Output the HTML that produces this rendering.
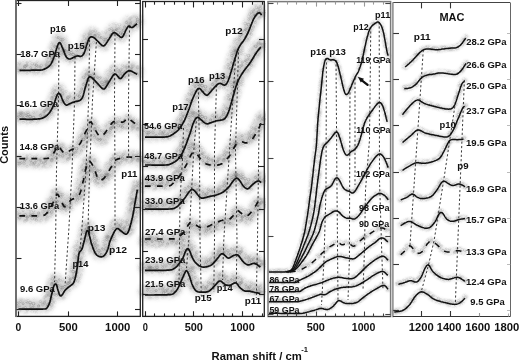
<!DOCTYPE html><html><head><meta charset="utf-8"><style>html,body{margin:0;padding:0;background:#fff;width:520px;height:360px;overflow:hidden}svg{display:block}text{font-family:'Liberation Sans', Arial, Helvetica, sans-serif;font-weight:bold;fill:#111}</style></head><body>
<svg width="520" height="360" viewBox="0 0 520 360">
<defs>
<pattern id="sp" width="43" height="31" patternUnits="userSpaceOnUse"><g fill="none" stroke-width="0.6"><circle cx="19.5" cy="17.4" r="1.4" stroke="#a8a8a8"/><circle cx="19.4" cy="26.5" r="0.9" stroke="#b4b4b4"/><circle cx="20.5" cy="19.0" r="0.9" stroke="#a8a8a8"/><circle cx="13.0" cy="2.8" r="1.3" stroke="#808080"/><circle cx="13.0" cy="33.8" r="1.3" stroke="#808080"/><circle cx="25.6" cy="12.3" r="1.1" stroke="#b4b4b4"/><circle cx="28.0" cy="19.3" r="1.3" stroke="#808080"/><circle cx="2.6" cy="5.9" r="0.9" stroke="#808080"/><circle cx="45.6" cy="5.9" r="0.9" stroke="#808080"/><circle cx="33.5" cy="10.1" r="1.2" stroke="#8e8e8e"/><circle cx="22.3" cy="19.8" r="1.1" stroke="#808080"/><circle cx="19.7" cy="8.6" r="1.4" stroke="#808080"/><circle cx="30.4" cy="9.8" r="0.9" stroke="#9c9c9c"/><circle cx="1.3" cy="17.5" r="0.9" stroke="#808080"/><circle cx="44.3" cy="17.5" r="0.9" stroke="#808080"/><circle cx="36.4" cy="12.0" r="1.4" stroke="#808080"/><circle cx="9.2" cy="-2.3" r="0.8" stroke="#a8a8a8"/><circle cx="9.2" cy="28.7" r="0.8" stroke="#a8a8a8"/><circle cx="-0.8" cy="12.3" r="0.8" stroke="#8e8e8e"/><circle cx="42.2" cy="12.3" r="0.8" stroke="#8e8e8e"/><circle cx="33.5" cy="8.4" r="0.9" stroke="#9c9c9c"/><circle cx="0.7" cy="12.7" r="1.4" stroke="#8e8e8e"/><circle cx="43.7" cy="12.7" r="1.4" stroke="#8e8e8e"/><circle cx="10.6" cy="3.1" r="0.8" stroke="#a8a8a8"/><circle cx="7.6" cy="17.3" r="1.1" stroke="#8e8e8e"/><circle cx="-0.6" cy="23.9" r="1.1" stroke="#a8a8a8"/><circle cx="42.4" cy="23.9" r="1.1" stroke="#a8a8a8"/><circle cx="5.0" cy="13.0" r="0.9" stroke="#9c9c9c"/><circle cx="37.2" cy="-0.8" r="1.2" stroke="#808080"/><circle cx="37.2" cy="30.2" r="1.2" stroke="#808080"/><circle cx="9.1" cy="12.2" r="1.3" stroke="#b4b4b4"/><circle cx="4.3" cy="-0.3" r="0.9" stroke="#9c9c9c"/><circle cx="4.3" cy="30.7" r="0.9" stroke="#9c9c9c"/><circle cx="0.4" cy="18.9" r="1.3" stroke="#a8a8a8"/><circle cx="43.4" cy="18.9" r="1.3" stroke="#a8a8a8"/><circle cx="3.2" cy="2.8" r="1.1" stroke="#8e8e8e"/><circle cx="3.2" cy="33.8" r="1.1" stroke="#8e8e8e"/><circle cx="0.7" cy="11.4" r="1.2" stroke="#8e8e8e"/><circle cx="43.7" cy="11.4" r="1.2" stroke="#8e8e8e"/><circle cx="-1.8" cy="15.0" r="1.1" stroke="#a8a8a8"/><circle cx="41.2" cy="15.0" r="1.1" stroke="#a8a8a8"/><circle cx="7.9" cy="4.8" r="1.3" stroke="#b4b4b4"/><circle cx="10.7" cy="5.9" r="1.2" stroke="#b4b4b4"/><circle cx="8.5" cy="-1.5" r="1.3" stroke="#b4b4b4"/><circle cx="8.5" cy="29.5" r="1.3" stroke="#b4b4b4"/><circle cx="3.4" cy="1.5" r="0.9" stroke="#b4b4b4"/><circle cx="3.4" cy="32.5" r="0.9" stroke="#b4b4b4"/><circle cx="-1.6" cy="7.4" r="1.2" stroke="#9c9c9c"/><circle cx="41.4" cy="7.4" r="1.2" stroke="#9c9c9c"/><circle cx="18.1" cy="-3.0" r="1.1" stroke="#b4b4b4"/><circle cx="18.1" cy="28.0" r="1.1" stroke="#b4b4b4"/><circle cx="7.5" cy="22.3" r="0.8" stroke="#8e8e8e"/><circle cx="20.6" cy="20.3" r="1.2" stroke="#808080"/><circle cx="12.0" cy="-2.6" r="0.9" stroke="#808080"/><circle cx="12.0" cy="28.4" r="0.9" stroke="#808080"/><circle cx="3.0" cy="12.8" r="0.9" stroke="#808080"/><circle cx="46.0" cy="12.8" r="0.9" stroke="#808080"/><circle cx="7.6" cy="11.4" r="1.1" stroke="#8e8e8e"/><circle cx="4.0" cy="4.3" r="1.1" stroke="#9c9c9c"/><circle cx="28.2" cy="21.4" r="1.2" stroke="#8e8e8e"/><circle cx="25.4" cy="-2.4" r="1.1" stroke="#9c9c9c"/><circle cx="25.4" cy="28.6" r="1.1" stroke="#9c9c9c"/><circle cx="30.1" cy="-1.2" r="0.8" stroke="#808080"/><circle cx="30.1" cy="29.8" r="0.8" stroke="#808080"/><circle cx="20.7" cy="22.6" r="1.0" stroke="#808080"/><circle cx="3.2" cy="16.9" r="1.2" stroke="#8e8e8e"/><circle cx="34.1" cy="-2.6" r="1.0" stroke="#a8a8a8"/><circle cx="34.1" cy="28.4" r="1.0" stroke="#a8a8a8"/><circle cx="38.7" cy="27.0" r="1.1" stroke="#808080"/><circle cx="37.1" cy="17.8" r="1.2" stroke="#a8a8a8"/><circle cx="16.3" cy="0.4" r="0.8" stroke="#808080"/><circle cx="16.3" cy="31.4" r="0.8" stroke="#808080"/><circle cx="27.5" cy="-0.2" r="1.3" stroke="#9c9c9c"/><circle cx="27.5" cy="30.8" r="1.3" stroke="#9c9c9c"/><circle cx="16.7" cy="22.8" r="1.1" stroke="#a8a8a8"/><circle cx="19.9" cy="16.8" r="1.1" stroke="#b4b4b4"/><circle cx="1.3" cy="18.6" r="1.1" stroke="#8e8e8e"/><circle cx="44.3" cy="18.6" r="1.1" stroke="#8e8e8e"/><circle cx="-1.8" cy="3.5" r="1.3" stroke="#a8a8a8"/><circle cx="41.2" cy="3.5" r="1.3" stroke="#a8a8a8"/><circle cx="11.0" cy="0.4" r="1.0" stroke="#b4b4b4"/><circle cx="11.0" cy="31.4" r="1.0" stroke="#b4b4b4"/><circle cx="8.7" cy="5.3" r="1.3" stroke="#a8a8a8"/><circle cx="21.4" cy="7.5" r="1.0" stroke="#9c9c9c"/><circle cx="8.5" cy="13.4" r="1.3" stroke="#8e8e8e"/><circle cx="37.9" cy="11.9" r="1.1" stroke="#9c9c9c"/><circle cx="9.0" cy="4.2" r="1.0" stroke="#808080"/><circle cx="30.6" cy="-1.5" r="1.0" stroke="#8e8e8e"/><circle cx="30.6" cy="29.5" r="1.0" stroke="#8e8e8e"/><circle cx="4.9" cy="14.6" r="1.4" stroke="#a8a8a8"/><circle cx="16.4" cy="16.1" r="1.2" stroke="#b4b4b4"/><circle cx="19.5" cy="2.3" r="0.8" stroke="#b4b4b4"/><circle cx="19.5" cy="33.3" r="0.8" stroke="#b4b4b4"/><circle cx="1.8" cy="22.0" r="1.1" stroke="#9c9c9c"/><circle cx="44.8" cy="22.0" r="1.1" stroke="#9c9c9c"/><circle cx="27.9" cy="17.5" r="1.2" stroke="#a8a8a8"/><circle cx="19.6" cy="0.8" r="1.3" stroke="#8e8e8e"/><circle cx="19.6" cy="31.8" r="1.3" stroke="#8e8e8e"/><circle cx="33.5" cy="24.7" r="1.4" stroke="#808080"/><circle cx="19.2" cy="19.5" r="1.2" stroke="#9c9c9c"/><circle cx="-1.8" cy="21.2" r="0.9" stroke="#a8a8a8"/><circle cx="41.2" cy="21.2" r="0.9" stroke="#a8a8a8"/><circle cx="11.0" cy="22.1" r="1.3" stroke="#b4b4b4"/><circle cx="30.7" cy="5.6" r="1.0" stroke="#9c9c9c"/><circle cx="23.2" cy="-1.6" r="1.1" stroke="#8e8e8e"/><circle cx="23.2" cy="29.4" r="1.1" stroke="#8e8e8e"/><circle cx="16.9" cy="24.5" r="1.3" stroke="#808080"/><circle cx="17.7" cy="27.7" r="1.0" stroke="#a8a8a8"/><circle cx="19.5" cy="19.4" r="1.3" stroke="#a8a8a8"/><circle cx="23.7" cy="20.2" r="1.1" stroke="#9c9c9c"/><circle cx="19.9" cy="20.2" r="0.9" stroke="#808080"/><circle cx="9.2" cy="27.9" r="1.4" stroke="#9c9c9c"/><circle cx="23.1" cy="24.5" r="1.0" stroke="#808080"/><circle cx="15.0" cy="2.6" r="1.1" stroke="#b4b4b4"/><circle cx="15.0" cy="33.6" r="1.1" stroke="#b4b4b4"/><circle cx="18.1" cy="8.5" r="1.4" stroke="#8e8e8e"/><circle cx="34.8" cy="2.0" r="1.3" stroke="#8e8e8e"/><circle cx="34.8" cy="33.0" r="1.3" stroke="#8e8e8e"/><circle cx="22.9" cy="21.3" r="1.3" stroke="#a8a8a8"/><circle cx="6.4" cy="16.0" r="1.2" stroke="#a8a8a8"/><circle cx="-2.3" cy="15.3" r="1.4" stroke="#808080"/><circle cx="40.7" cy="15.3" r="1.4" stroke="#808080"/><circle cx="32.6" cy="13.6" r="1.1" stroke="#b4b4b4"/><circle cx="27.5" cy="16.2" r="1.3" stroke="#b4b4b4"/><circle cx="11.0" cy="20.8" r="1.4" stroke="#b4b4b4"/><circle cx="9.0" cy="26.4" r="1.4" stroke="#b4b4b4"/><circle cx="11.7" cy="15.4" r="1.0" stroke="#808080"/><circle cx="21.6" cy="18.8" r="0.8" stroke="#808080"/><circle cx="22.2" cy="12.4" r="1.3" stroke="#b4b4b4"/><circle cx="5.2" cy="2.9" r="0.9" stroke="#b4b4b4"/><circle cx="5.2" cy="33.9" r="0.9" stroke="#b4b4b4"/><circle cx="19.7" cy="-2.5" r="1.3" stroke="#a8a8a8"/><circle cx="19.7" cy="28.5" r="1.3" stroke="#a8a8a8"/><circle cx="11.6" cy="14.7" r="0.9" stroke="#a8a8a8"/><circle cx="38.7" cy="-2.0" r="1.4" stroke="#b4b4b4"/><circle cx="38.7" cy="29.0" r="1.4" stroke="#b4b4b4"/><circle cx="13.6" cy="5.9" r="1.2" stroke="#9c9c9c"/><circle cx="5.6" cy="24.2" r="0.8" stroke="#8e8e8e"/><circle cx="6.7" cy="0.4" r="1.0" stroke="#9c9c9c"/><circle cx="6.7" cy="31.4" r="1.0" stroke="#9c9c9c"/><circle cx="10.5" cy="15.5" r="1.1" stroke="#b4b4b4"/><circle cx="5.3" cy="15.8" r="1.0" stroke="#8e8e8e"/><circle cx="30.2" cy="27.2" r="0.8" stroke="#a8a8a8"/><circle cx="35.5" cy="19.1" r="1.1" stroke="#b4b4b4"/><circle cx="27.5" cy="16.4" r="1.3" stroke="#b4b4b4"/><circle cx="25.2" cy="4.2" r="1.3" stroke="#9c9c9c"/><circle cx="38.8" cy="9.8" r="1.0" stroke="#8e8e8e"/><circle cx="9.4" cy="-0.1" r="1.3" stroke="#8e8e8e"/><circle cx="9.4" cy="30.9" r="1.3" stroke="#8e8e8e"/><circle cx="38.2" cy="4.1" r="0.9" stroke="#a8a8a8"/><circle cx="4.2" cy="25.8" r="1.1" stroke="#8e8e8e"/><circle cx="8.6" cy="19.5" r="1.3" stroke="#808080"/><circle cx="8.6" cy="21.2" r="1.3" stroke="#9c9c9c"/><circle cx="5.0" cy="15.7" r="1.3" stroke="#b4b4b4"/><circle cx="-0.1" cy="25.8" r="1.3" stroke="#a8a8a8"/><circle cx="42.9" cy="25.8" r="1.3" stroke="#a8a8a8"/><circle cx="4.6" cy="1.2" r="1.1" stroke="#b4b4b4"/><circle cx="4.6" cy="32.2" r="1.1" stroke="#b4b4b4"/><circle cx="38.9" cy="14.9" r="0.9" stroke="#808080"/><circle cx="8.8" cy="26.0" r="1.4" stroke="#808080"/><circle cx="24.9" cy="4.2" r="1.2" stroke="#808080"/><circle cx="32.9" cy="10.1" r="1.1" stroke="#b4b4b4"/><circle cx="15.2" cy="6.5" r="1.0" stroke="#808080"/><circle cx="36.3" cy="5.6" r="1.1" stroke="#9c9c9c"/><circle cx="17.4" cy="6.0" r="0.9" stroke="#b4b4b4"/><circle cx="34.1" cy="10.0" r="0.9" stroke="#a8a8a8"/><circle cx="24.5" cy="5.9" r="1.2" stroke="#9c9c9c"/><circle cx="34.6" cy="8.0" r="1.3" stroke="#8e8e8e"/><circle cx="35.0" cy="12.6" r="1.3" stroke="#b4b4b4"/><circle cx="29.9" cy="23.8" r="1.3" stroke="#a8a8a8"/><circle cx="8.9" cy="5.7" r="1.3" stroke="#9c9c9c"/><circle cx="20.2" cy="0.3" r="1.0" stroke="#b4b4b4"/><circle cx="20.2" cy="31.3" r="1.0" stroke="#b4b4b4"/><circle cx="2.1" cy="8.5" r="1.4" stroke="#9c9c9c"/><circle cx="45.1" cy="8.5" r="1.4" stroke="#9c9c9c"/><circle cx="14.5" cy="20.5" r="1.1" stroke="#b4b4b4"/><circle cx="3.3" cy="16.0" r="1.1" stroke="#8e8e8e"/><circle cx="30.2" cy="23.6" r="1.4" stroke="#808080"/><circle cx="4.9" cy="3.3" r="0.9" stroke="#a8a8a8"/><circle cx="17.3" cy="1.6" r="0.9" stroke="#a8a8a8"/><circle cx="17.3" cy="32.6" r="0.9" stroke="#a8a8a8"/><circle cx="0.5" cy="8.0" r="1.0" stroke="#9c9c9c"/><circle cx="43.5" cy="8.0" r="1.0" stroke="#9c9c9c"/><circle cx="23.7" cy="15.7" r="1.4" stroke="#b4b4b4"/><circle cx="36.4" cy="3.1" r="1.1" stroke="#808080"/><circle cx="23.6" cy="20.7" r="1.4" stroke="#a8a8a8"/><circle cx="40.0" cy="5.0" r="1.1" stroke="#8e8e8e"/><circle cx="36.8" cy="16.8" r="1.2" stroke="#a8a8a8"/><circle cx="-2.4" cy="13.0" r="1.1" stroke="#b4b4b4"/><circle cx="40.6" cy="13.0" r="1.1" stroke="#b4b4b4"/><circle cx="13.4" cy="16.4" r="1.1" stroke="#9c9c9c"/><circle cx="24.1" cy="8.8" r="1.2" stroke="#9c9c9c"/><circle cx="1.2" cy="23.9" r="1.2" stroke="#8e8e8e"/><circle cx="44.2" cy="23.9" r="1.2" stroke="#8e8e8e"/><circle cx="17.6" cy="21.2" r="0.8" stroke="#9c9c9c"/><circle cx="32.2" cy="1.6" r="1.4" stroke="#9c9c9c"/><circle cx="32.2" cy="32.6" r="1.4" stroke="#9c9c9c"/><circle cx="3.2" cy="-2.9" r="1.1" stroke="#a8a8a8"/><circle cx="3.2" cy="28.1" r="1.1" stroke="#a8a8a8"/><circle cx="10.8" cy="23.4" r="0.8" stroke="#808080"/><circle cx="-2.7" cy="22.4" r="1.1" stroke="#8e8e8e"/><circle cx="40.3" cy="22.4" r="1.1" stroke="#8e8e8e"/><circle cx="26.0" cy="3.6" r="1.2" stroke="#a8a8a8"/><circle cx="5.1" cy="26.7" r="1.0" stroke="#8e8e8e"/><circle cx="5.3" cy="13.7" r="1.2" stroke="#a8a8a8"/><circle cx="25.8" cy="19.8" r="1.2" stroke="#9c9c9c"/><circle cx="33.5" cy="16.5" r="1.4" stroke="#9c9c9c"/><circle cx="31.6" cy="7.4" r="0.9" stroke="#9c9c9c"/><circle cx="33.7" cy="19.4" r="1.0" stroke="#9c9c9c"/><circle cx="26.2" cy="22.5" r="1.2" stroke="#8e8e8e"/><circle cx="27.2" cy="23.4" r="0.9" stroke="#8e8e8e"/><circle cx="21.6" cy="20.2" r="0.9" stroke="#808080"/><circle cx="27.0" cy="0.3" r="1.0" stroke="#808080"/><circle cx="27.0" cy="31.3" r="1.0" stroke="#808080"/><circle cx="26.8" cy="3.2" r="1.1" stroke="#808080"/><circle cx="32.5" cy="-2.7" r="0.9" stroke="#8e8e8e"/><circle cx="32.5" cy="28.3" r="0.9" stroke="#8e8e8e"/><circle cx="27.1" cy="11.6" r="1.1" stroke="#8e8e8e"/><circle cx="14.5" cy="15.3" r="0.9" stroke="#808080"/><circle cx="34.5" cy="13.9" r="1.3" stroke="#8e8e8e"/><circle cx="19.1" cy="23.2" r="1.0" stroke="#8e8e8e"/><circle cx="15.9" cy="20.3" r="1.4" stroke="#9c9c9c"/><circle cx="12.5" cy="23.5" r="1.3" stroke="#8e8e8e"/><circle cx="18.4" cy="11.4" r="0.9" stroke="#9c9c9c"/></g></pattern>
<filter id="bl" x="-10%" y="-10%" width="120%" height="120%"><feGaussianBlur stdDeviation="2.0"/></filter>
<filter id="bl2" x="-10%" y="-10%" width="120%" height="120%"><feGaussianBlur stdDeviation="0.9"/></filter>
<mask id="m1" maskUnits="userSpaceOnUse" x="0" y="0" width="520" height="360"><g filter="url(#bl)"><g opacity="0.5"><path d="M19.5,67.8C22.9,67.8 35.9,67.8 40.0,67.6C44.1,67.4 42.8,67.1 44.0,66.7C45.2,66.3 46.3,65.9 47.5,65.0C48.7,64.1 49.9,63.2 51.0,61.5C52.1,59.8 53.1,57.0 54.0,54.5C54.9,52.0 55.6,49.0 56.5,46.5C57.4,44.0 58.3,39.7 59.4,39.7C60.5,39.7 61.9,44.1 63.0,46.5C64.1,48.9 65.0,52.3 66.0,54.0C67.0,55.7 68.0,56.5 69.2,56.7C70.4,56.9 71.9,55.6 73.3,55.0C74.7,54.4 76.2,53.5 77.5,53.3C78.8,53.1 79.7,54.4 80.8,54.0C81.9,53.6 83.0,52.9 84.0,51.0C85.0,49.1 85.8,45.0 86.7,42.5C87.6,40.0 88.4,37.2 89.2,35.8C90.0,34.4 90.7,34.2 91.7,34.2C92.7,34.2 93.6,34.9 95.0,36.0C96.4,37.1 98.5,39.8 100.0,41.0C101.5,42.2 102.5,44.2 104.0,43.5C105.5,42.8 107.4,38.8 109.0,36.5C110.6,34.2 112.1,30.7 113.6,30.0C115.1,29.3 116.6,31.7 118.0,32.5C119.4,33.3 120.7,35.8 122.0,35.0C123.3,34.2 124.8,29.5 126.0,27.5C127.2,25.5 128.1,23.5 129.0,23.1C129.9,22.7 130.4,25.6 131.7,25.3C133.0,25.0 136.1,21.8 137.0,21.1" fill="none" stroke="#fff" stroke-opacity="1.0" stroke-width="14" stroke-linecap="round" stroke-linejoin="round"/><path d="M19.5,116.7C22.1,116.7 31.3,116.9 35.0,116.7C38.7,116.5 39.9,116.3 41.7,115.8C43.6,115.3 44.8,114.5 46.1,113.6C47.4,112.7 48.4,111.6 49.4,110.3C50.4,109.0 51.4,107.5 52.2,105.8C53.0,104.1 53.6,102.3 54.4,100.3C55.1,98.3 56.0,95.2 56.7,93.6C57.4,92.0 57.9,90.5 58.6,90.5C59.3,90.5 60.3,92.1 61.1,93.6C61.9,95.0 62.4,97.7 63.3,99.2C64.2,100.7 65.3,102.5 66.4,102.8C67.5,103.1 68.6,101.6 70.0,101.0C71.4,100.4 72.8,100.0 74.7,99.2C76.7,98.4 79.8,99.2 81.7,96.4C83.6,93.6 84.7,86.2 86.0,82.5C87.3,78.8 88.0,75.0 89.4,74.2C90.8,73.4 92.6,76.1 94.2,77.5C95.8,78.9 97.4,81.0 99.0,82.5C100.6,84.0 102.2,87.2 103.9,86.7C105.6,86.2 107.2,82.0 109.0,79.5C110.8,77.0 113.0,72.4 114.4,71.4C115.8,70.4 116.5,72.7 117.5,73.5C118.5,74.3 119.3,76.7 120.5,76.4C121.7,76.1 123.1,72.9 124.5,71.5C125.9,70.1 127.5,68.4 128.9,68.1C130.3,67.8 131.6,68.9 133.0,69.5C134.4,70.1 136.5,71.5 137.2,71.9" fill="none" stroke="#fff" stroke-opacity="1.0" stroke-width="14" stroke-linecap="round" stroke-linejoin="round"/><path d="M19.4,161.2C23.8,161.2 40.9,161.3 46.0,161.0C51.1,160.7 48.8,160.3 50.0,159.5C51.2,158.7 52.5,157.4 53.5,156.0C54.5,154.6 55.2,152.3 56.0,151.0C56.8,149.7 57.7,147.8 58.5,148.0C59.3,148.2 60.1,150.8 61.0,152.0C61.9,153.2 63.1,154.9 64.0,155.5C64.9,156.1 65.5,156.2 66.5,155.8C67.5,155.4 68.8,153.8 70.0,153.0C71.2,152.2 72.3,152.1 73.5,151.3C74.7,150.6 76.3,149.4 77.4,148.5C78.5,147.6 79.1,147.7 80.2,146.0C81.3,144.3 82.6,141.2 83.8,138.5C85.0,135.8 86.5,132.5 87.6,130.1C88.7,127.7 89.4,124.1 90.4,124.0C91.4,123.9 92.5,127.3 93.7,129.3C94.9,131.3 96.3,134.5 97.5,136.2C98.7,137.9 99.4,139.3 100.6,139.3C101.8,139.3 103.1,137.6 104.4,136.2C105.7,134.8 106.9,132.6 108.2,130.8C109.5,129.0 110.7,126.8 112.0,125.5C113.3,124.2 114.5,123.3 115.9,123.2C117.3,123.1 119.1,124.6 120.5,124.7C121.9,124.8 123.2,124.7 124.3,124.0C125.4,123.3 126.2,120.4 127.3,120.3C128.4,120.2 129.8,122.2 131.2,123.2C132.6,124.2 134.9,125.8 135.7,126.3" fill="none" stroke="#fff" stroke-opacity="1.0" stroke-width="14" stroke-linecap="round" stroke-linejoin="round"/><path d="M19.4,215.8C23.2,215.8 37.5,216.0 42.0,215.6C46.5,215.2 45.2,214.4 46.5,213.3C47.8,212.2 48.6,211.5 49.9,209.2C51.2,206.9 53.3,201.9 54.5,199.3C55.7,196.8 56.3,194.1 57.2,193.9C58.1,193.8 58.9,196.5 59.9,198.4C60.9,200.3 62.6,204.2 63.5,205.6C64.4,207.0 64.8,207.3 65.5,207.0C66.2,206.7 67.1,205.1 68.0,204.0C68.9,202.9 69.3,201.3 70.7,200.2C72.1,199.1 74.7,198.6 76.2,197.5C77.7,196.4 78.6,196.8 79.8,193.9C81.0,191.0 82.4,184.7 83.4,180.3C84.5,175.9 85.2,170.9 86.1,167.7C87.0,164.4 87.8,161.3 88.8,160.8C89.8,160.3 91.3,163.0 92.4,164.9C93.5,166.8 94.6,169.7 95.5,172.0C96.4,174.3 97.0,177.1 97.9,178.5C98.8,179.9 99.6,180.8 100.8,180.5C102.0,180.2 103.6,178.6 105.0,177.0C106.4,175.4 107.7,173.0 109.0,170.8C110.3,168.6 111.8,165.8 113.0,164.0C114.2,162.2 114.5,160.6 116.0,159.7C117.5,158.8 119.6,158.8 121.7,158.3C123.8,157.9 125.9,157.0 128.6,157.0C131.3,157.0 136.4,158.1 138.0,158.3" fill="none" stroke="#fff" stroke-opacity="1.0" stroke-width="14" stroke-linecap="round" stroke-linejoin="round"/><path d="M18.5,305.7C22.8,305.7 39.2,305.8 44.0,305.5C48.8,305.2 46.1,304.9 47.0,304.1C47.9,303.3 48.5,302.4 49.2,300.5C49.9,298.6 50.5,295.7 51.2,293.0C51.9,290.3 52.6,286.6 53.2,284.5C53.8,282.4 54.3,281.1 54.8,280.5C55.3,279.9 55.8,279.8 56.3,280.8C56.8,281.8 57.3,284.5 58.0,286.5C58.7,288.5 59.5,292.9 60.7,292.9C61.9,292.9 63.8,288.2 65.3,286.5C66.8,284.8 68.5,283.8 70.0,282.5C71.5,281.2 72.8,281.3 74.0,278.5C75.2,275.7 76.2,270.3 77.0,265.5C77.8,260.7 78.2,253.1 79.0,249.8C79.8,246.6 80.9,248.2 81.8,246.0C82.7,243.8 83.5,239.8 84.5,236.5C85.5,233.2 86.3,225.9 87.5,226.5C88.7,227.1 90.1,236.0 91.5,240.1C92.9,244.2 94.2,248.6 96.0,250.8C97.8,253.0 100.5,253.8 102.3,253.3C104.1,252.8 105.6,250.7 107.0,247.9C108.4,245.1 108.9,240.3 110.5,236.5C112.1,232.7 114.8,226.6 116.5,225.1C118.2,223.6 119.2,226.6 121.0,227.5C122.8,228.4 125.4,232.4 127.2,230.3C129.1,228.2 130.8,220.2 132.1,215.1C133.4,210.0 134.1,204.3 135.0,199.5C135.9,194.7 137.0,188.2 137.4,186.0" fill="none" stroke="#fff" stroke-opacity="1.0" stroke-width="14" stroke-linecap="round" stroke-linejoin="round"/><path d="M145.0,134.2C148.0,134.2 159.1,134.2 163.0,134.1C166.9,134.0 167.2,133.8 168.7,133.4C170.2,133.0 170.9,132.5 172.0,131.8C173.1,131.2 174.2,130.3 175.3,129.5C176.4,128.7 177.6,127.8 178.5,126.8C179.4,125.8 180.0,125.0 180.9,123.5C181.8,122.0 183.2,119.9 184.2,118.0C185.2,116.1 185.9,114.1 186.7,112.0C187.5,109.9 188.2,108.2 189.2,105.5C190.2,102.8 191.3,98.9 192.8,95.5C194.3,92.1 196.7,86.5 198.3,85.3C199.9,84.1 201.1,87.3 202.5,88.5C203.9,89.7 205.2,92.7 207.0,92.3C208.8,91.9 211.0,88.0 213.0,86.0C215.0,84.0 217.2,80.9 219.2,80.3C221.1,79.7 223.2,82.7 224.7,82.3C226.2,81.9 226.9,80.2 228.0,78.0C229.1,75.8 229.9,72.4 231.0,69.0C232.1,65.6 233.1,61.5 234.4,57.5C235.7,53.5 237.0,48.5 238.6,45.0C240.2,41.5 242.6,39.4 244.2,36.7C245.8,34.0 246.7,32.5 248.3,29.0C249.9,25.5 252.1,18.8 253.9,15.5C255.7,12.2 257.6,10.0 258.9,9.5C260.2,9.0 261.2,11.8 261.7,12.3" fill="none" stroke="#fff" stroke-opacity="1.0" stroke-width="14" stroke-linecap="round" stroke-linejoin="round"/><path d="M145.0,162.5C148.5,162.5 161.7,162.7 166.0,162.5C170.3,162.3 169.2,162.1 171.0,161.3C172.8,160.6 174.9,159.6 176.7,158.0C178.5,156.4 180.2,154.3 181.7,151.7C183.2,149.1 184.4,146.0 185.8,142.5C187.2,139.0 188.8,134.4 190.0,130.8C191.2,127.2 192.1,123.5 193.3,120.8C194.5,118.1 195.7,115.2 197.0,114.7C198.3,114.2 199.8,116.4 201.3,117.5C202.9,118.6 204.6,120.9 206.3,121.3C208.0,121.7 209.6,120.5 211.3,120.0C213.0,119.5 214.4,118.8 216.5,118.3C218.6,117.8 222.0,118.1 224.0,116.7C226.0,115.3 226.9,113.5 228.3,110.0C229.7,106.5 231.0,100.9 232.5,96.0C234.0,91.1 235.5,84.8 237.2,80.5C238.9,76.2 240.7,73.3 242.8,70.0C244.9,66.7 247.4,64.2 249.7,60.8C252.0,57.4 254.8,52.4 256.7,49.7C258.6,47.0 260.1,45.5 260.8,44.7" fill="none" stroke="#fff" stroke-opacity="1.0" stroke-width="14" stroke-linecap="round" stroke-linejoin="round"/><path d="M145.0,183.1C148.8,183.1 163.1,183.5 167.8,183.0C172.5,182.5 171.2,181.8 173.0,180.3C174.8,178.8 176.5,177.3 178.9,174.0C181.3,170.7 185.2,164.0 187.2,160.3C189.2,156.6 189.8,154.0 191.0,152.0C192.2,150.0 193.1,148.0 194.5,148.5C195.9,149.0 198.1,153.0 199.7,154.8C201.3,156.6 202.6,158.4 204.0,159.5C205.4,160.6 206.2,161.1 208.3,161.6C210.4,162.1 214.1,162.7 216.7,162.3C219.2,162.0 221.3,161.3 223.6,159.5C225.9,157.7 228.5,154.2 230.6,151.2C232.7,148.2 234.2,143.5 236.1,141.4C237.9,139.3 240.1,138.9 241.7,138.7C243.3,138.5 244.2,140.2 245.8,140.0C247.4,139.8 249.3,139.6 251.4,137.3C253.5,135.0 256.6,129.4 258.3,126.2C260.0,123.0 261.1,119.4 261.7,118.0" fill="none" stroke="#fff" stroke-opacity="1.0" stroke-width="14" stroke-linecap="round" stroke-linejoin="round"/><path d="M145.0,206.2C149.2,206.2 165.0,206.2 170.0,206.0C175.0,205.8 173.7,205.5 175.0,205.0C176.3,204.5 176.8,204.0 177.8,203.1C178.8,202.2 179.9,200.8 181.0,199.5C182.1,198.2 183.2,197.1 184.6,195.3C186.0,193.5 188.1,190.0 189.4,188.5C190.7,187.0 191.3,186.2 192.3,186.2C193.3,186.2 194.1,187.3 195.2,188.5C196.3,189.7 198.0,192.3 199.1,193.4C200.2,194.5 200.4,195.3 202.0,195.3C203.6,195.3 206.7,194.1 208.8,193.6C210.9,193.1 212.4,193.1 214.7,192.4C217.0,191.7 220.1,190.8 222.4,189.5C224.7,188.2 226.7,186.3 228.3,184.6C229.9,182.9 231.0,180.8 232.0,179.5C233.0,178.2 233.3,177.7 234.1,176.9C234.9,176.2 236.0,174.8 237.0,175.0C238.0,175.2 238.8,176.4 239.9,177.8C241.0,179.2 242.5,182.3 243.8,183.7C245.1,185.1 246.5,186.1 247.7,186.0C248.9,185.9 250.0,183.9 251.0,183.0C252.0,182.1 252.3,181.6 253.5,180.7C254.7,179.8 257.0,178.0 258.3,177.8C259.6,177.7 260.8,179.5 261.3,179.8" fill="none" stroke="#fff" stroke-opacity="1.0" stroke-width="14" stroke-linecap="round" stroke-linejoin="round"/><path d="M145.0,241.0C150.0,241.0 169.5,241.1 175.0,240.8C180.5,240.6 176.8,240.1 177.8,239.5C178.8,238.9 179.9,238.0 181.0,237.0C182.1,236.0 183.4,235.0 184.6,233.3C185.8,231.6 187.3,228.4 188.4,226.8C189.5,225.2 190.3,223.9 191.4,223.8C192.5,223.8 193.8,225.6 195.2,226.5C196.6,227.4 198.5,228.8 200.1,229.4C201.7,230.0 203.2,230.2 205.0,229.8C206.8,229.4 208.9,228.0 210.8,227.1C212.7,226.2 214.7,225.4 216.6,224.6C218.5,223.8 220.4,222.6 222.4,222.2C224.4,221.8 226.5,222.7 228.3,222.0C230.1,221.3 231.7,219.4 233.1,217.8C234.5,216.2 235.7,213.0 237.0,212.5C238.3,212.0 239.5,213.9 240.9,214.9C242.3,215.9 244.1,218.5 245.7,218.5C247.3,218.5 249.0,216.6 250.6,214.9C252.2,213.2 253.9,210.2 255.4,208.1C256.9,206.0 258.3,202.8 259.3,202.2C260.3,201.5 261.0,203.9 261.3,204.2" fill="none" stroke="#fff" stroke-opacity="1.0" stroke-width="14" stroke-linecap="round" stroke-linejoin="round"/><path d="M145.0,267.4C148.8,267.4 163.2,267.5 168.0,267.2C172.8,266.9 172.4,266.3 174.0,265.5C175.6,264.7 176.4,264.0 177.8,262.3C179.2,260.6 181.3,257.7 182.6,255.5C183.8,253.3 184.5,250.7 185.3,249.0C186.1,247.3 186.7,245.4 187.5,245.3C188.3,245.2 189.3,247.3 190.0,248.5C190.7,249.7 190.5,250.7 191.4,252.5C192.3,254.3 193.5,257.5 195.3,259.4C197.1,261.3 199.5,263.5 202.1,264.0C204.7,264.5 208.4,263.6 210.8,262.3C213.2,261.0 214.9,258.3 216.7,256.4C218.5,254.4 220.1,251.2 221.5,250.6C222.9,249.9 223.9,251.7 225.0,252.5C226.1,253.3 227.1,255.2 228.3,255.3C229.6,255.4 231.0,253.6 232.5,253.0C234.0,252.4 235.8,251.3 237.1,251.6C238.3,251.8 239.0,253.4 240.0,254.5C241.0,255.6 241.6,257.1 242.9,258.4C244.2,259.6 246.0,261.7 247.8,262.0C249.6,262.3 252.1,260.4 253.6,260.3C255.1,260.2 255.9,260.9 257.0,261.5C258.1,262.1 259.8,263.8 260.4,264.2" fill="none" stroke="#fff" stroke-opacity="1.0" stroke-width="14" stroke-linecap="round" stroke-linejoin="round"/><path d="M145.0,291.5C149.2,291.4 165.1,291.5 170.0,291.1C174.9,290.7 173.2,290.0 174.5,289.0C175.8,288.0 176.6,287.2 177.8,285.1C179.0,283.0 180.6,278.8 181.7,276.3C182.8,273.8 183.8,271.6 184.6,270.0C185.4,268.4 185.7,266.4 186.5,266.8C187.3,267.2 188.4,270.1 189.4,272.5C190.4,274.9 191.2,278.8 192.3,281.3C193.4,283.8 194.6,286.3 196.2,287.5C197.8,288.7 200.0,288.6 202.1,288.7C204.2,288.8 206.7,288.9 208.8,287.8C210.9,286.7 212.9,283.9 214.7,282.2C216.5,280.4 218.2,277.8 219.5,277.3C220.8,276.8 221.5,278.4 222.5,279.0C223.5,279.6 224.3,280.7 225.4,281.2C226.5,281.7 228.1,282.1 229.3,282.0C230.5,281.9 231.4,280.9 232.5,280.5C233.6,280.1 234.8,278.7 236.1,279.3C237.3,279.9 238.6,282.8 240.0,284.2C241.4,285.6 243.2,286.9 244.8,287.5C246.4,288.1 247.9,287.4 249.7,287.7C251.5,287.9 253.7,288.6 255.5,289.0C257.3,289.4 259.6,289.8 260.4,290.0" fill="none" stroke="#fff" stroke-opacity="1.0" stroke-width="14" stroke-linecap="round" stroke-linejoin="round"/></g><path d="M19.5,67.8C22.9,67.8 35.9,67.8 40.0,67.6C44.1,67.4 42.8,67.1 44.0,66.7C45.2,66.3 46.3,65.9 47.5,65.0C48.7,64.1 49.9,63.2 51.0,61.5C52.1,59.8 53.1,57.0 54.0,54.5C54.9,52.0 55.6,49.0 56.5,46.5C57.4,44.0 58.3,39.7 59.4,39.7C60.5,39.7 61.9,44.1 63.0,46.5C64.1,48.9 65.0,52.3 66.0,54.0C67.0,55.7 68.0,56.5 69.2,56.7C70.4,56.9 71.9,55.6 73.3,55.0C74.7,54.4 76.2,53.5 77.5,53.3C78.8,53.1 79.7,54.4 80.8,54.0C81.9,53.6 83.0,52.9 84.0,51.0C85.0,49.1 85.8,45.0 86.7,42.5C87.6,40.0 88.4,37.2 89.2,35.8C90.0,34.4 90.7,34.2 91.7,34.2C92.7,34.2 93.6,34.9 95.0,36.0C96.4,37.1 98.5,39.8 100.0,41.0C101.5,42.2 102.5,44.2 104.0,43.5C105.5,42.8 107.4,38.8 109.0,36.5C110.6,34.2 112.1,30.7 113.6,30.0C115.1,29.3 116.6,31.7 118.0,32.5C119.4,33.3 120.7,35.8 122.0,35.0C123.3,34.2 124.8,29.5 126.0,27.5C127.2,25.5 128.1,23.5 129.0,23.1C129.9,22.7 130.4,25.6 131.7,25.3C133.0,25.0 136.1,21.8 137.0,21.1" fill="none" stroke="#fff" stroke-opacity="1.0" stroke-width="8" stroke-linecap="round" stroke-linejoin="round"/><path d="M19.5,116.7C22.1,116.7 31.3,116.9 35.0,116.7C38.7,116.5 39.9,116.3 41.7,115.8C43.6,115.3 44.8,114.5 46.1,113.6C47.4,112.7 48.4,111.6 49.4,110.3C50.4,109.0 51.4,107.5 52.2,105.8C53.0,104.1 53.6,102.3 54.4,100.3C55.1,98.3 56.0,95.2 56.7,93.6C57.4,92.0 57.9,90.5 58.6,90.5C59.3,90.5 60.3,92.1 61.1,93.6C61.9,95.0 62.4,97.7 63.3,99.2C64.2,100.7 65.3,102.5 66.4,102.8C67.5,103.1 68.6,101.6 70.0,101.0C71.4,100.4 72.8,100.0 74.7,99.2C76.7,98.4 79.8,99.2 81.7,96.4C83.6,93.6 84.7,86.2 86.0,82.5C87.3,78.8 88.0,75.0 89.4,74.2C90.8,73.4 92.6,76.1 94.2,77.5C95.8,78.9 97.4,81.0 99.0,82.5C100.6,84.0 102.2,87.2 103.9,86.7C105.6,86.2 107.2,82.0 109.0,79.5C110.8,77.0 113.0,72.4 114.4,71.4C115.8,70.4 116.5,72.7 117.5,73.5C118.5,74.3 119.3,76.7 120.5,76.4C121.7,76.1 123.1,72.9 124.5,71.5C125.9,70.1 127.5,68.4 128.9,68.1C130.3,67.8 131.6,68.9 133.0,69.5C134.4,70.1 136.5,71.5 137.2,71.9" fill="none" stroke="#fff" stroke-opacity="1.0" stroke-width="8" stroke-linecap="round" stroke-linejoin="round"/><path d="M19.4,161.2C23.8,161.2 40.9,161.3 46.0,161.0C51.1,160.7 48.8,160.3 50.0,159.5C51.2,158.7 52.5,157.4 53.5,156.0C54.5,154.6 55.2,152.3 56.0,151.0C56.8,149.7 57.7,147.8 58.5,148.0C59.3,148.2 60.1,150.8 61.0,152.0C61.9,153.2 63.1,154.9 64.0,155.5C64.9,156.1 65.5,156.2 66.5,155.8C67.5,155.4 68.8,153.8 70.0,153.0C71.2,152.2 72.3,152.1 73.5,151.3C74.7,150.6 76.3,149.4 77.4,148.5C78.5,147.6 79.1,147.7 80.2,146.0C81.3,144.3 82.6,141.2 83.8,138.5C85.0,135.8 86.5,132.5 87.6,130.1C88.7,127.7 89.4,124.1 90.4,124.0C91.4,123.9 92.5,127.3 93.7,129.3C94.9,131.3 96.3,134.5 97.5,136.2C98.7,137.9 99.4,139.3 100.6,139.3C101.8,139.3 103.1,137.6 104.4,136.2C105.7,134.8 106.9,132.6 108.2,130.8C109.5,129.0 110.7,126.8 112.0,125.5C113.3,124.2 114.5,123.3 115.9,123.2C117.3,123.1 119.1,124.6 120.5,124.7C121.9,124.8 123.2,124.7 124.3,124.0C125.4,123.3 126.2,120.4 127.3,120.3C128.4,120.2 129.8,122.2 131.2,123.2C132.6,124.2 134.9,125.8 135.7,126.3" fill="none" stroke="#fff" stroke-opacity="1.0" stroke-width="8" stroke-linecap="round" stroke-linejoin="round"/><path d="M19.4,215.8C23.2,215.8 37.5,216.0 42.0,215.6C46.5,215.2 45.2,214.4 46.5,213.3C47.8,212.2 48.6,211.5 49.9,209.2C51.2,206.9 53.3,201.9 54.5,199.3C55.7,196.8 56.3,194.1 57.2,193.9C58.1,193.8 58.9,196.5 59.9,198.4C60.9,200.3 62.6,204.2 63.5,205.6C64.4,207.0 64.8,207.3 65.5,207.0C66.2,206.7 67.1,205.1 68.0,204.0C68.9,202.9 69.3,201.3 70.7,200.2C72.1,199.1 74.7,198.6 76.2,197.5C77.7,196.4 78.6,196.8 79.8,193.9C81.0,191.0 82.4,184.7 83.4,180.3C84.5,175.9 85.2,170.9 86.1,167.7C87.0,164.4 87.8,161.3 88.8,160.8C89.8,160.3 91.3,163.0 92.4,164.9C93.5,166.8 94.6,169.7 95.5,172.0C96.4,174.3 97.0,177.1 97.9,178.5C98.8,179.9 99.6,180.8 100.8,180.5C102.0,180.2 103.6,178.6 105.0,177.0C106.4,175.4 107.7,173.0 109.0,170.8C110.3,168.6 111.8,165.8 113.0,164.0C114.2,162.2 114.5,160.6 116.0,159.7C117.5,158.8 119.6,158.8 121.7,158.3C123.8,157.9 125.9,157.0 128.6,157.0C131.3,157.0 136.4,158.1 138.0,158.3" fill="none" stroke="#fff" stroke-opacity="1.0" stroke-width="8" stroke-linecap="round" stroke-linejoin="round"/><path d="M18.5,305.7C22.8,305.7 39.2,305.8 44.0,305.5C48.8,305.2 46.1,304.9 47.0,304.1C47.9,303.3 48.5,302.4 49.2,300.5C49.9,298.6 50.5,295.7 51.2,293.0C51.9,290.3 52.6,286.6 53.2,284.5C53.8,282.4 54.3,281.1 54.8,280.5C55.3,279.9 55.8,279.8 56.3,280.8C56.8,281.8 57.3,284.5 58.0,286.5C58.7,288.5 59.5,292.9 60.7,292.9C61.9,292.9 63.8,288.2 65.3,286.5C66.8,284.8 68.5,283.8 70.0,282.5C71.5,281.2 72.8,281.3 74.0,278.5C75.2,275.7 76.2,270.3 77.0,265.5C77.8,260.7 78.2,253.1 79.0,249.8C79.8,246.6 80.9,248.2 81.8,246.0C82.7,243.8 83.5,239.8 84.5,236.5C85.5,233.2 86.3,225.9 87.5,226.5C88.7,227.1 90.1,236.0 91.5,240.1C92.9,244.2 94.2,248.6 96.0,250.8C97.8,253.0 100.5,253.8 102.3,253.3C104.1,252.8 105.6,250.7 107.0,247.9C108.4,245.1 108.9,240.3 110.5,236.5C112.1,232.7 114.8,226.6 116.5,225.1C118.2,223.6 119.2,226.6 121.0,227.5C122.8,228.4 125.4,232.4 127.2,230.3C129.1,228.2 130.8,220.2 132.1,215.1C133.4,210.0 134.1,204.3 135.0,199.5C135.9,194.7 137.0,188.2 137.4,186.0" fill="none" stroke="#fff" stroke-opacity="1.0" stroke-width="8" stroke-linecap="round" stroke-linejoin="round"/><path d="M145.0,134.2C148.0,134.2 159.1,134.2 163.0,134.1C166.9,134.0 167.2,133.8 168.7,133.4C170.2,133.0 170.9,132.5 172.0,131.8C173.1,131.2 174.2,130.3 175.3,129.5C176.4,128.7 177.6,127.8 178.5,126.8C179.4,125.8 180.0,125.0 180.9,123.5C181.8,122.0 183.2,119.9 184.2,118.0C185.2,116.1 185.9,114.1 186.7,112.0C187.5,109.9 188.2,108.2 189.2,105.5C190.2,102.8 191.3,98.9 192.8,95.5C194.3,92.1 196.7,86.5 198.3,85.3C199.9,84.1 201.1,87.3 202.5,88.5C203.9,89.7 205.2,92.7 207.0,92.3C208.8,91.9 211.0,88.0 213.0,86.0C215.0,84.0 217.2,80.9 219.2,80.3C221.1,79.7 223.2,82.7 224.7,82.3C226.2,81.9 226.9,80.2 228.0,78.0C229.1,75.8 229.9,72.4 231.0,69.0C232.1,65.6 233.1,61.5 234.4,57.5C235.7,53.5 237.0,48.5 238.6,45.0C240.2,41.5 242.6,39.4 244.2,36.7C245.8,34.0 246.7,32.5 248.3,29.0C249.9,25.5 252.1,18.8 253.9,15.5C255.7,12.2 257.6,10.0 258.9,9.5C260.2,9.0 261.2,11.8 261.7,12.3" fill="none" stroke="#fff" stroke-opacity="1.0" stroke-width="8" stroke-linecap="round" stroke-linejoin="round"/><path d="M145.0,162.5C148.5,162.5 161.7,162.7 166.0,162.5C170.3,162.3 169.2,162.1 171.0,161.3C172.8,160.6 174.9,159.6 176.7,158.0C178.5,156.4 180.2,154.3 181.7,151.7C183.2,149.1 184.4,146.0 185.8,142.5C187.2,139.0 188.8,134.4 190.0,130.8C191.2,127.2 192.1,123.5 193.3,120.8C194.5,118.1 195.7,115.2 197.0,114.7C198.3,114.2 199.8,116.4 201.3,117.5C202.9,118.6 204.6,120.9 206.3,121.3C208.0,121.7 209.6,120.5 211.3,120.0C213.0,119.5 214.4,118.8 216.5,118.3C218.6,117.8 222.0,118.1 224.0,116.7C226.0,115.3 226.9,113.5 228.3,110.0C229.7,106.5 231.0,100.9 232.5,96.0C234.0,91.1 235.5,84.8 237.2,80.5C238.9,76.2 240.7,73.3 242.8,70.0C244.9,66.7 247.4,64.2 249.7,60.8C252.0,57.4 254.8,52.4 256.7,49.7C258.6,47.0 260.1,45.5 260.8,44.7" fill="none" stroke="#fff" stroke-opacity="1.0" stroke-width="8" stroke-linecap="round" stroke-linejoin="round"/><path d="M145.0,183.1C148.8,183.1 163.1,183.5 167.8,183.0C172.5,182.5 171.2,181.8 173.0,180.3C174.8,178.8 176.5,177.3 178.9,174.0C181.3,170.7 185.2,164.0 187.2,160.3C189.2,156.6 189.8,154.0 191.0,152.0C192.2,150.0 193.1,148.0 194.5,148.5C195.9,149.0 198.1,153.0 199.7,154.8C201.3,156.6 202.6,158.4 204.0,159.5C205.4,160.6 206.2,161.1 208.3,161.6C210.4,162.1 214.1,162.7 216.7,162.3C219.2,162.0 221.3,161.3 223.6,159.5C225.9,157.7 228.5,154.2 230.6,151.2C232.7,148.2 234.2,143.5 236.1,141.4C237.9,139.3 240.1,138.9 241.7,138.7C243.3,138.5 244.2,140.2 245.8,140.0C247.4,139.8 249.3,139.6 251.4,137.3C253.5,135.0 256.6,129.4 258.3,126.2C260.0,123.0 261.1,119.4 261.7,118.0" fill="none" stroke="#fff" stroke-opacity="1.0" stroke-width="8" stroke-linecap="round" stroke-linejoin="round"/><path d="M145.0,206.2C149.2,206.2 165.0,206.2 170.0,206.0C175.0,205.8 173.7,205.5 175.0,205.0C176.3,204.5 176.8,204.0 177.8,203.1C178.8,202.2 179.9,200.8 181.0,199.5C182.1,198.2 183.2,197.1 184.6,195.3C186.0,193.5 188.1,190.0 189.4,188.5C190.7,187.0 191.3,186.2 192.3,186.2C193.3,186.2 194.1,187.3 195.2,188.5C196.3,189.7 198.0,192.3 199.1,193.4C200.2,194.5 200.4,195.3 202.0,195.3C203.6,195.3 206.7,194.1 208.8,193.6C210.9,193.1 212.4,193.1 214.7,192.4C217.0,191.7 220.1,190.8 222.4,189.5C224.7,188.2 226.7,186.3 228.3,184.6C229.9,182.9 231.0,180.8 232.0,179.5C233.0,178.2 233.3,177.7 234.1,176.9C234.9,176.2 236.0,174.8 237.0,175.0C238.0,175.2 238.8,176.4 239.9,177.8C241.0,179.2 242.5,182.3 243.8,183.7C245.1,185.1 246.5,186.1 247.7,186.0C248.9,185.9 250.0,183.9 251.0,183.0C252.0,182.1 252.3,181.6 253.5,180.7C254.7,179.8 257.0,178.0 258.3,177.8C259.6,177.7 260.8,179.5 261.3,179.8" fill="none" stroke="#fff" stroke-opacity="1.0" stroke-width="8" stroke-linecap="round" stroke-linejoin="round"/><path d="M145.0,241.0C150.0,241.0 169.5,241.1 175.0,240.8C180.5,240.6 176.8,240.1 177.8,239.5C178.8,238.9 179.9,238.0 181.0,237.0C182.1,236.0 183.4,235.0 184.6,233.3C185.8,231.6 187.3,228.4 188.4,226.8C189.5,225.2 190.3,223.9 191.4,223.8C192.5,223.8 193.8,225.6 195.2,226.5C196.6,227.4 198.5,228.8 200.1,229.4C201.7,230.0 203.2,230.2 205.0,229.8C206.8,229.4 208.9,228.0 210.8,227.1C212.7,226.2 214.7,225.4 216.6,224.6C218.5,223.8 220.4,222.6 222.4,222.2C224.4,221.8 226.5,222.7 228.3,222.0C230.1,221.3 231.7,219.4 233.1,217.8C234.5,216.2 235.7,213.0 237.0,212.5C238.3,212.0 239.5,213.9 240.9,214.9C242.3,215.9 244.1,218.5 245.7,218.5C247.3,218.5 249.0,216.6 250.6,214.9C252.2,213.2 253.9,210.2 255.4,208.1C256.9,206.0 258.3,202.8 259.3,202.2C260.3,201.5 261.0,203.9 261.3,204.2" fill="none" stroke="#fff" stroke-opacity="1.0" stroke-width="8" stroke-linecap="round" stroke-linejoin="round"/><path d="M145.0,267.4C148.8,267.4 163.2,267.5 168.0,267.2C172.8,266.9 172.4,266.3 174.0,265.5C175.6,264.7 176.4,264.0 177.8,262.3C179.2,260.6 181.3,257.7 182.6,255.5C183.8,253.3 184.5,250.7 185.3,249.0C186.1,247.3 186.7,245.4 187.5,245.3C188.3,245.2 189.3,247.3 190.0,248.5C190.7,249.7 190.5,250.7 191.4,252.5C192.3,254.3 193.5,257.5 195.3,259.4C197.1,261.3 199.5,263.5 202.1,264.0C204.7,264.5 208.4,263.6 210.8,262.3C213.2,261.0 214.9,258.3 216.7,256.4C218.5,254.4 220.1,251.2 221.5,250.6C222.9,249.9 223.9,251.7 225.0,252.5C226.1,253.3 227.1,255.2 228.3,255.3C229.6,255.4 231.0,253.6 232.5,253.0C234.0,252.4 235.8,251.3 237.1,251.6C238.3,251.8 239.0,253.4 240.0,254.5C241.0,255.6 241.6,257.1 242.9,258.4C244.2,259.6 246.0,261.7 247.8,262.0C249.6,262.3 252.1,260.4 253.6,260.3C255.1,260.2 255.9,260.9 257.0,261.5C258.1,262.1 259.8,263.8 260.4,264.2" fill="none" stroke="#fff" stroke-opacity="1.0" stroke-width="8" stroke-linecap="round" stroke-linejoin="round"/><path d="M145.0,291.5C149.2,291.4 165.1,291.5 170.0,291.1C174.9,290.7 173.2,290.0 174.5,289.0C175.8,288.0 176.6,287.2 177.8,285.1C179.0,283.0 180.6,278.8 181.7,276.3C182.8,273.8 183.8,271.6 184.6,270.0C185.4,268.4 185.7,266.4 186.5,266.8C187.3,267.2 188.4,270.1 189.4,272.5C190.4,274.9 191.2,278.8 192.3,281.3C193.4,283.8 194.6,286.3 196.2,287.5C197.8,288.7 200.0,288.6 202.1,288.7C204.2,288.8 206.7,288.9 208.8,287.8C210.9,286.7 212.9,283.9 214.7,282.2C216.5,280.4 218.2,277.8 219.5,277.3C220.8,276.8 221.5,278.4 222.5,279.0C223.5,279.6 224.3,280.7 225.4,281.2C226.5,281.7 228.1,282.1 229.3,282.0C230.5,281.9 231.4,280.9 232.5,280.5C233.6,280.1 234.8,278.7 236.1,279.3C237.3,279.9 238.6,282.8 240.0,284.2C241.4,285.6 243.2,286.9 244.8,287.5C246.4,288.1 247.9,287.4 249.7,287.7C251.5,287.9 253.7,288.6 255.5,289.0C257.3,289.4 259.6,289.8 260.4,290.0" fill="none" stroke="#fff" stroke-opacity="1.0" stroke-width="8" stroke-linecap="round" stroke-linejoin="round"/></g></mask>
<mask id="m3" maskUnits="userSpaceOnUse" x="0" y="0" width="520" height="360"><g filter="url(#bl2)" opacity="0.7"><path d="M269.0,271.5C271.7,271.5 281.6,271.6 285.0,271.4C288.4,271.2 288.2,271.1 289.5,270.5C290.8,269.9 291.8,269.0 292.7,267.5C293.6,266.0 294.3,263.7 295.1,261.5C295.9,259.3 296.6,257.3 297.6,254.5C298.6,251.7 299.8,248.3 301.0,244.5C302.2,240.7 303.5,236.5 304.6,231.5C305.7,226.5 306.6,220.3 307.5,214.5C308.4,208.7 309.3,201.5 310.0,196.5C310.7,191.5 310.9,190.7 311.7,184.5C312.4,178.3 313.7,166.2 314.5,159.5C315.3,152.8 315.8,151.3 316.4,144.5C317.0,137.7 317.3,127.8 318.0,118.9C318.7,110.0 319.9,100.0 320.8,91.2C321.7,82.4 322.7,71.8 323.6,66.2C324.5,60.6 325.3,58.9 326.4,57.8C327.5,56.7 328.8,59.3 330.0,59.5C331.2,59.7 332.7,58.7 333.9,59.2C335.1,59.7 335.9,60.0 337.0,62.5C338.1,65.0 339.1,69.7 340.3,74.5C341.5,79.3 343.2,88.0 344.4,91.2C345.6,94.4 346.1,95.1 347.5,93.7C348.9,92.3 351.1,85.9 352.5,82.8C353.9,79.7 354.8,77.2 355.8,75.3C356.8,73.4 357.3,73.5 358.3,71.2C359.3,68.9 360.6,65.4 361.7,61.2C362.8,57.0 364.0,50.5 365.0,46.2C366.0,41.9 366.6,38.7 367.5,35.5C368.4,32.3 369.2,29.2 370.6,27.0C372.0,24.8 374.6,23.2 376.0,22.3C377.4,21.4 377.7,20.4 378.9,21.7C380.1,23.0 381.6,25.0 383.0,30.1C384.4,35.2 386.3,48.1 387.2,52.3C388.1,56.5 388.4,54.6 388.6,55.1" fill="none" stroke="#fff" stroke-opacity="1.0" stroke-width="5" stroke-linecap="round" stroke-linejoin="round"/><path d="M286.0,271.4C286.8,271.2 289.2,271.1 290.5,270.5C291.8,269.9 292.9,269.0 294.0,267.5C295.1,266.0 296.1,263.7 297.1,261.5C298.1,259.3 298.9,257.3 300.0,254.5C301.1,251.7 302.4,248.3 303.9,244.5C305.4,240.7 307.3,236.5 308.9,231.5C310.5,226.5 312.2,219.8 313.3,214.5C314.4,209.2 314.9,204.5 315.5,199.5C316.1,194.5 316.6,189.5 317.2,184.5C317.8,179.5 318.6,174.2 319.2,169.5C319.8,164.8 320.3,160.3 321.0,156.5C321.7,152.7 322.2,149.0 323.3,146.5C324.4,144.0 326.1,143.3 327.5,141.7C328.9,140.1 330.2,138.4 331.7,136.7C333.2,134.9 335.3,131.0 336.7,131.2C338.1,131.4 338.9,135.1 340.0,138.1C341.1,141.1 342.2,146.4 343.3,149.2C344.4,152.0 345.4,154.7 346.7,155.0C348.0,155.3 349.6,152.3 351.0,151.2C352.4,150.1 353.9,150.1 355.3,148.4C356.7,146.7 357.8,145.4 359.4,140.9C361.0,136.4 362.9,126.6 365.0,121.5C367.1,116.4 369.7,113.5 372.0,110.3C374.3,107.0 377.1,102.7 378.9,102.0C380.7,101.3 381.6,103.0 383.0,106.2C384.4,109.5 386.5,119.0 387.2,121.5" fill="none" stroke="#fff" stroke-opacity="1.0" stroke-width="5" stroke-linecap="round" stroke-linejoin="round"/><path d="M287.0,271.4C287.8,271.2 290.1,271.1 291.5,270.5C292.9,269.9 294.2,269.0 295.5,267.5C296.8,266.0 297.8,263.7 299.0,261.5C300.2,259.3 301.4,257.3 302.9,254.5C304.4,251.7 306.0,248.3 307.8,244.5C309.6,240.7 312.1,236.5 313.8,231.5C315.5,226.5 317.2,219.0 318.2,214.5C319.2,210.0 319.2,207.8 320.0,204.5C320.8,201.2 321.9,197.1 322.8,194.5C323.7,191.9 324.2,190.4 325.6,188.9C327.0,187.4 329.1,187.7 331.0,185.7C332.9,183.7 334.9,176.6 337.0,177.0C339.1,177.4 341.8,185.8 343.9,188.1C346.0,190.4 347.8,190.2 349.4,190.9C351.0,191.6 351.7,193.9 353.6,192.3C355.5,190.7 358.1,185.6 360.6,181.2C363.2,176.8 366.4,170.1 368.9,165.9C371.4,161.7 373.9,158.3 375.8,156.2C377.7,154.1 378.6,153.2 380.0,153.4C381.4,153.6 382.8,155.2 384.2,157.5C385.6,159.8 387.6,165.7 388.3,167.3" fill="none" stroke="#fff" stroke-opacity="1.0" stroke-width="5" stroke-linecap="round" stroke-linejoin="round"/><path d="M288.0,271.4C288.8,271.2 291.0,271.1 292.5,270.5C294.0,269.9 295.4,269.0 297.0,267.5C298.6,266.0 300.3,263.7 301.9,261.5C303.5,259.3 305.1,257.3 306.8,254.5C308.5,251.7 310.1,248.3 312.1,244.5C314.2,240.7 317.5,235.2 319.1,231.5C320.7,227.8 320.8,224.9 321.7,222.5C322.6,220.1 323.6,218.2 324.5,217.0C325.4,215.8 326.1,215.6 327.0,215.0C327.9,214.4 328.9,214.0 330.0,213.3C331.1,212.6 332.4,211.5 333.5,211.0C334.6,210.5 335.7,210.1 336.7,210.3C337.7,210.5 338.5,211.2 339.5,212.0C340.5,212.8 341.3,214.3 342.5,215.3C343.7,216.3 345.4,217.4 346.7,217.8C347.9,218.2 348.8,217.3 350.0,217.5C351.2,217.7 352.7,219.2 354.2,218.7C355.7,218.2 357.4,216.6 359.2,214.5C361.0,212.4 362.9,209.0 365.0,206.2C367.1,203.4 369.9,199.8 371.7,197.8C373.5,195.9 374.6,195.3 376.0,194.5C377.4,193.7 378.5,192.7 380.0,192.8C381.5,192.9 383.6,194.2 385.0,195.3C386.4,196.4 387.8,198.8 388.3,199.5" fill="none" stroke="#fff" stroke-opacity="1.0" stroke-width="5" stroke-linecap="round" stroke-linejoin="round"/><path d="M290.0,271.4C290.8,271.3 293.2,271.1 295.0,270.8C296.8,270.5 298.3,270.4 300.6,269.4C302.9,268.3 306.4,266.2 308.9,264.5C311.4,262.8 313.5,261.0 315.8,258.9C318.1,256.8 320.7,254.0 322.8,252.0C324.9,250.0 326.6,248.4 328.3,247.1C330.0,245.8 331.6,245.3 333.2,244.4C334.8,243.5 336.3,241.4 337.8,241.4C339.3,241.4 340.5,244.3 342.2,244.5C343.9,244.7 345.9,242.1 347.8,242.3C349.7,242.5 351.8,245.7 353.3,245.9C354.8,246.1 355.6,244.7 357.0,243.5C358.4,242.3 359.9,240.4 361.7,238.9C363.5,237.4 365.9,235.9 368.0,234.5C370.1,233.1 372.5,231.5 374.2,230.5C375.9,229.5 376.6,229.0 378.0,228.5C379.4,228.0 380.8,227.0 382.5,227.3C384.2,227.6 387.1,230.0 388.0,230.5" fill="none" stroke="#fff" stroke-opacity="1.0" stroke-width="5" stroke-linecap="round" stroke-linejoin="round"/><path d="M269.0,282.1C273.2,282.1 289.2,282.2 294.0,282.0C298.8,281.8 296.6,281.4 297.5,281.0C298.4,280.6 298.0,280.5 299.4,279.8C300.8,279.1 303.9,277.9 306.1,276.7C308.3,275.5 311.0,274.0 312.8,272.8C314.6,271.6 315.7,270.8 317.2,269.5C318.7,268.2 320.2,266.5 321.7,265.1C323.2,263.7 324.4,262.3 326.1,261.2C327.8,260.1 329.9,259.2 331.7,258.4C333.5,257.6 335.7,256.6 337.2,256.2C338.7,255.8 339.3,255.9 340.6,256.0C341.9,256.1 342.9,256.6 345.0,257.0C347.1,257.4 351.1,258.6 353.3,258.4C355.5,258.1 356.1,256.9 358.0,255.5C359.9,254.1 362.4,251.8 364.4,250.1C366.4,248.4 368.1,246.9 370.0,245.5C371.9,244.1 374.1,242.9 375.6,241.7C377.1,240.5 377.7,239.2 379.0,238.5C380.3,237.8 381.8,237.0 383.3,237.5C384.8,238.0 387.2,241.0 388.0,241.7" fill="none" stroke="#fff" stroke-opacity="1.0" stroke-width="5" stroke-linecap="round" stroke-linejoin="round"/><path d="M269.0,291.2C273.8,291.2 292.7,291.3 298.0,291.1C303.3,290.9 299.6,290.8 301.0,290.1C302.4,289.4 304.1,288.0 306.1,287.1C308.1,286.2 310.4,285.5 312.8,284.7C315.2,283.9 318.2,283.3 320.6,282.5C323.0,281.7 325.0,280.6 327.2,279.8C329.4,279.0 331.9,278.0 333.9,277.5C335.9,277.0 337.5,276.8 339.4,276.8C341.2,276.9 342.7,277.6 345.0,277.8C347.3,278.0 350.8,278.7 353.3,277.8C355.8,276.9 357.9,274.4 360.0,272.5C362.1,270.6 363.8,268.5 365.8,266.7C367.8,264.9 370.0,263.0 372.0,261.5C374.0,260.0 376.2,258.5 378.0,257.5C379.8,256.5 381.3,255.8 382.5,255.6C383.7,255.4 384.1,255.8 385.0,256.5C385.9,257.2 387.5,259.2 388.0,259.8" fill="none" stroke="#fff" stroke-opacity="1.0" stroke-width="5" stroke-linecap="round" stroke-linejoin="round"/><path d="M269.0,301.3C273.5,301.3 290.8,301.4 296.0,301.3C301.2,301.2 298.0,301.2 300.0,300.7C302.0,300.2 305.2,299.4 307.8,298.5C310.4,297.6 313.7,296.3 315.6,295.6C317.5,294.9 318.0,294.7 319.0,294.3C320.0,293.9 320.5,293.5 321.4,293.5C322.3,293.5 323.4,294.5 324.3,294.5C325.2,294.5 326.2,293.8 327.0,293.3C327.8,292.8 327.9,292.4 329.2,291.7C330.5,290.9 332.7,289.6 335.0,288.8C337.3,288.0 339.8,287.3 342.8,286.9C345.9,286.5 350.4,286.8 353.3,286.2C356.2,285.6 357.7,284.7 360.0,283.5C362.3,282.3 364.9,280.7 367.2,279.2C369.5,277.7 371.4,275.9 374.0,274.5C376.6,273.1 380.2,270.8 382.5,270.9C384.8,271.0 387.1,274.4 388.0,275.1" fill="none" stroke="#fff" stroke-opacity="1.0" stroke-width="5" stroke-linecap="round" stroke-linejoin="round"/><path d="M269.0,312.8C274.2,312.8 294.2,312.9 300.0,312.9C305.8,312.8 302.3,312.8 304.0,312.5C305.7,312.2 308.1,311.5 310.0,311.0C311.9,310.5 314.1,309.8 315.6,309.3C317.1,308.8 318.0,308.5 319.0,308.2C320.0,307.9 320.6,307.6 321.4,307.7C322.2,307.8 323.0,308.3 324.0,308.5C325.0,308.7 326.3,309.1 327.3,309.0C328.3,308.9 329.0,308.6 330.0,308.1C331.0,307.6 332.1,306.7 333.1,305.8C334.1,304.9 335.1,303.5 336.0,302.5C336.9,301.5 337.7,300.3 338.5,300.0C339.3,299.7 340.2,300.3 341.0,300.7C341.8,301.1 342.5,301.8 343.5,302.2C344.5,302.6 344.9,303.0 347.0,303.0C349.1,303.0 353.5,303.1 356.0,302.3C358.5,301.5 359.9,299.5 362.0,298.0C364.1,296.5 366.3,294.7 368.6,293.1C370.9,291.5 373.4,289.9 376.0,288.5C378.6,287.1 381.9,284.7 383.9,284.8C385.9,284.9 387.3,288.2 388.0,288.9" fill="none" stroke="#fff" stroke-opacity="1.0" stroke-width="5" stroke-linecap="round" stroke-linejoin="round"/><path d="M405.2,66.5C406.4,65.4 410.0,62.4 412.4,60.0C414.8,57.6 417.7,53.9 419.7,52.1C421.7,50.3 422.5,49.6 424.2,49.0C425.9,48.4 427.7,48.5 429.6,48.5C431.6,48.5 433.6,49.3 435.9,49.3C438.1,49.3 440.9,48.8 443.1,48.5C445.4,48.2 447.3,47.9 449.4,47.7C451.5,47.5 454.0,47.8 455.8,47.3C457.6,46.8 459.0,46.0 460.3,44.8C461.6,43.6 463.0,41.5 463.9,40.3C464.8,39.1 465.4,38.0 465.7,37.6" fill="none" stroke="#fff" stroke-opacity="1.0" stroke-width="6" stroke-linecap="round" stroke-linejoin="round"/><path d="M404.3,88.2C405.4,88.0 408.7,88.0 410.6,87.3C412.6,86.5 414.2,85.4 416.0,83.7C417.8,82.0 419.7,78.8 421.5,77.3C423.3,75.8 424.9,75.2 426.9,74.6C428.8,74.0 431.2,74.0 433.2,73.7C435.1,73.4 436.7,72.7 438.6,72.5C440.6,72.3 442.8,72.6 444.9,72.8C447.0,73.0 449.2,73.5 451.2,73.7C453.2,73.9 455.0,74.3 456.7,73.7C458.4,73.1 459.8,71.6 461.2,70.1C462.6,68.6 464.0,65.9 464.8,64.7C465.6,63.5 466.0,63.2 466.2,62.9" fill="none" stroke="#fff" stroke-opacity="1.0" stroke-width="6" stroke-linecap="round" stroke-linejoin="round"/><path d="M402.5,114.2C403.6,112.8 406.9,108.4 409.4,105.9C411.8,103.5 414.6,100.0 417.2,99.5C419.8,99.0 421.8,102.0 424.7,103.1C427.6,104.2 430.5,105.0 434.4,105.9C438.3,106.8 445.1,108.7 448.3,108.7C451.6,108.7 452.3,108.2 453.9,105.9C455.5,103.6 456.7,98.5 458.0,94.8C459.3,91.1 460.6,86.0 461.7,83.7C462.8,81.4 463.9,81.4 464.4,80.9" fill="none" stroke="#fff" stroke-opacity="1.0" stroke-width="6" stroke-linecap="round" stroke-linejoin="round"/><path d="M402.5,142.0C403.9,140.8 408.2,137.2 410.8,135.1C413.4,133.0 415.2,129.9 417.8,129.5C420.4,129.1 422.9,131.9 426.1,132.8C429.3,133.7 433.7,134.5 437.2,135.1C440.7,135.7 444.4,137.2 447.0,136.5C449.6,135.8 450.7,133.9 452.5,130.9C454.3,127.9 456.3,122.3 458.0,118.4C459.7,114.5 461.6,109.4 462.8,107.3C464.0,105.2 464.6,106.1 465.0,105.9" fill="none" stroke="#fff" stroke-opacity="1.0" stroke-width="6" stroke-linecap="round" stroke-linejoin="round"/><path d="M402.5,169.8C403.6,169.1 407.1,166.8 409.4,165.5C411.7,164.2 413.8,162.8 416.4,162.3C418.9,161.9 421.7,163.1 424.7,162.8C427.7,162.5 431.8,161.4 434.4,160.5C436.9,159.6 438.4,159.0 440.0,157.3C441.6,155.6 442.8,152.9 444.2,150.3C445.6,147.8 447.1,143.8 448.3,142.0C449.5,140.2 449.5,139.7 451.1,139.2C452.7,138.7 455.9,139.3 458.0,139.2C460.1,139.1 462.7,138.8 463.6,138.7" fill="none" stroke="#fff" stroke-opacity="1.0" stroke-width="6" stroke-linecap="round" stroke-linejoin="round"/><path d="M400.7,199.3C401.7,198.9 404.6,198.0 406.6,197.0C408.6,196.0 410.7,193.4 412.5,193.4C414.3,193.4 415.5,196.0 417.3,196.8C419.1,197.6 420.8,198.3 423.2,198.1C425.6,197.9 429.1,197.4 431.5,195.8C433.9,194.2 435.9,190.8 437.4,188.7C438.9,186.6 439.5,184.9 440.5,183.5C441.5,182.1 442.4,180.8 443.3,180.5C444.2,180.2 445.2,181.1 446.0,181.5C446.8,181.9 446.9,182.2 448.0,182.8C449.1,183.4 450.9,185.0 452.7,185.1C454.5,185.2 456.8,183.5 458.6,183.5C460.4,183.5 462.3,184.6 463.4,185.1C464.5,185.6 464.7,186.3 465.0,186.5" fill="none" stroke="#fff" stroke-opacity="1.0" stroke-width="6" stroke-linecap="round" stroke-linejoin="round"/><path d="M400.6,225.1C402.1,224.4 406.5,220.9 409.4,220.9C412.3,220.9 414.8,223.9 417.8,225.1C420.8,226.2 424.7,228.3 427.5,227.8C430.3,227.3 432.2,225.0 434.4,222.3C436.6,219.6 438.7,212.3 440.8,211.7C442.9,211.1 445.1,217.4 447.0,218.9C448.9,220.4 450.4,220.9 452.5,220.9C454.6,220.9 457.3,219.4 459.4,218.9C461.5,218.4 464.1,218.2 465.0,218.1" fill="none" stroke="#fff" stroke-opacity="1.0" stroke-width="6" stroke-linecap="round" stroke-linejoin="round"/><path d="M400.6,254.2C401.4,253.5 403.7,251.6 405.3,250.1C406.9,248.6 408.1,244.7 410.0,245.1C411.9,245.5 414.4,251.2 416.4,252.3C418.4,253.4 420.0,252.9 421.9,251.4C423.8,249.9 425.9,244.9 427.5,243.1C429.1,241.2 430.1,240.1 431.7,240.3C433.3,240.5 435.1,242.8 437.2,244.5C439.3,246.2 441.9,249.4 444.2,250.6C446.5,251.8 448.8,251.5 451.1,251.4C453.4,251.3 455.9,250.1 458.0,250.1C460.1,250.1 462.7,251.3 463.6,251.5" fill="none" stroke="#fff" stroke-opacity="1.0" stroke-width="6" stroke-linecap="round" stroke-linejoin="round"/><path d="M398.3,283.7C399.2,283.5 401.8,282.9 403.9,282.3C406.0,281.7 408.7,280.2 410.8,280.1C412.9,280.0 414.7,282.3 416.4,281.7C418.1,281.1 419.7,278.9 421.1,276.7C422.5,274.5 423.5,270.5 424.7,268.4C425.9,266.3 426.9,263.7 428.3,264.2C429.7,264.7 431.1,269.1 433.0,271.2C434.9,273.3 437.4,275.4 440.0,276.7C442.6,278.0 445.5,278.9 448.3,278.9C451.1,278.9 454.6,276.8 456.7,276.7C458.8,276.6 459.4,277.4 460.8,278.1C462.2,278.8 464.3,280.4 465.0,280.9" fill="none" stroke="#fff" stroke-opacity="1.0" stroke-width="6" stroke-linecap="round" stroke-linejoin="round"/><path d="M394.2,311.5C395.6,311.3 400.0,311.3 402.5,310.1C405.0,308.9 407.3,306.8 409.4,304.5C411.5,302.2 413.1,298.4 415.0,296.2C416.9,294.0 419.0,291.6 421.1,291.2C423.2,290.8 425.3,292.6 427.5,293.9C429.7,295.2 431.4,297.5 434.4,298.9C437.4,300.3 442.1,301.5 445.6,302.3C449.1,303.1 452.8,304.0 455.3,303.9C457.8,303.8 459.2,302.8 460.8,301.7C462.4,300.6 464.3,298.2 465.0,297.5" fill="none" stroke="#fff" stroke-opacity="1.0" stroke-width="6" stroke-linecap="round" stroke-linejoin="round"/></g></mask>
</defs>
<rect width="520" height="360" fill="#fff"/>
<g mask="url(#m1)"><rect x="16" y="0" width="250" height="317" fill="#cdcdcd"/><rect x="16" y="0" width="250" height="317" fill="url(#sp)"/></g>
<g mask="url(#m3)"><rect x="268" y="0" width="245" height="317" fill="#e2e2e2"/><rect x="268" y="0" width="245" height="317" fill="url(#sp)"/></g>
<path d="M59.0,43.0 L58.5,100.0 L56.5,170.0 L55.6,240.0 L54.5,282.0" fill="none" stroke="#3a3a3a" stroke-width="1" stroke-dasharray="2.2,2.2"/>
<path d="M75.0,57.0 L74.6,100.0 L72.0,170.0 L68.8,230.0 L65.0,286.0" fill="none" stroke="#3a3a3a" stroke-width="1" stroke-dasharray="2.2,2.2"/>
<path d="M89.6,40.0 L88.6,100.0 L86.0,170.0 L81.8,230.0 L80.0,249.5" fill="none" stroke="#3a3a3a" stroke-width="1" stroke-dasharray="2.2,2.2"/>
<path d="M96.4,42.0 L92.5,100.0 L89.6,170.0 L88.0,229.0" fill="none" stroke="#3a3a3a" stroke-width="1" stroke-dasharray="2.2,2.2"/>
<path d="M115.0,34.0 L114.5,100.0 L115.0,170.0 L115.0,228.0" fill="none" stroke="#3a3a3a" stroke-width="1" stroke-dasharray="2.2,2.2"/>
<path d="M129.5,26.0 L128.5,100.0 L128.6,157.0" fill="none" stroke="#3a3a3a" stroke-width="1" stroke-dasharray="2.2,2.2"/>
<path d="M183.5,128.0 L182.5,160.0 L180.0,200.0 L179.3,260.0 L179.0,283.0" fill="none" stroke="#3a3a3a" stroke-width="1" stroke-dasharray="2.2,2.2"/>
<path d="M196.7,117.0 L193.8,150.0 L188.8,240.0 L186.5,268.0" fill="none" stroke="#3a3a3a" stroke-width="1" stroke-dasharray="2.2,2.2"/>
<path d="M198.3,88.0 L199.5,150.0 L200.0,240.0 L201.3,296.0" fill="none" stroke="#3a3a3a" stroke-width="1" stroke-dasharray="2.2,2.2"/>
<path d="M216.5,85.0 L214.5,150.0 L214.5,240.0 L213.8,292.0" fill="none" stroke="#3a3a3a" stroke-width="1" stroke-dasharray="2.2,2.2"/>
<path d="M235.8,55.0 L229.5,150.0 L223.8,240.0 L222.5,280.0" fill="none" stroke="#3a3a3a" stroke-width="1" stroke-dasharray="2.2,2.2"/>
<path d="M238.6,48.0 L235.5,150.0 L237.0,240.0 L236.3,283.0" fill="none" stroke="#3a3a3a" stroke-width="1" stroke-dasharray="2.2,2.2"/>
<path d="M259.0,130.0 L257.5,240.0 L256.3,298.0" fill="none" stroke="#3a3a3a" stroke-width="1" stroke-dasharray="2.2,2.2"/>
<path d="M326.4,58.0 L326.0,190.0 L324.0,260.0 L321.5,305.0" fill="none" stroke="#3a3a3a" stroke-width="1" stroke-dasharray="2.2,2.2"/>
<path d="M336.0,60.0 L337.0,190.0 L338.0,300.0" fill="none" stroke="#3a3a3a" stroke-width="1" stroke-dasharray="2.2,2.2"/>
<path d="M350.0,88.0 L349.4,260.0 L348.0,300.0" fill="none" stroke="#3a3a3a" stroke-width="1" stroke-dasharray="2.2,2.2"/>
<path d="M355.0,78.0 L355.0,185.0" fill="none" stroke="#3a3a3a" stroke-width="1" stroke-dasharray="2.2,2.2"/>
<path d="M370.8,27.0 L369.5,140.0 L365.5,190.0 L364.5,250.0 L363.0,290.0" fill="none" stroke="#3a3a3a" stroke-width="1" stroke-dasharray="2.2,2.2"/>
<path d="M379.2,22.0 L379.5,180.0 L381.7,250.0 L383.0,290.0" fill="none" stroke="#3a3a3a" stroke-width="1" stroke-dasharray="2.2,2.2"/>
<path d="M423.3,50.0 L410.0,245.0" fill="none" stroke="#3a3a3a" stroke-width="1" stroke-dasharray="2.2,2.2"/>
<path d="M455.5,102.0 L444.5,175.0 L434.2,240.0 L428.5,265.0 L421.7,290.0" fill="none" stroke="#3a3a3a" stroke-width="1" stroke-dasharray="2.2,2.2"/>
<path d="M464.4,80.0 L455.3,304.0" fill="none" stroke="#3a3a3a" stroke-width="1" stroke-dasharray="2.2,2.2"/>
<path d="M19.5,70.3 20.5,70.3 21.5,70.3 22.5,70.3 23.5,70.3 24.5,70.3 25.5,70.3 26.5,70.3 27.5,70.3 28.5,70.3 29.5,70.3 30.5,70.3 31.5,70.2 32.5,70.2 33.5,70.2 34.5,70.2 35.5,70.2 36.5,70.2 37.5,70.2 38.5,70.1 39.5,70.1 40.5,70.1 41.5,70.0 42.5,69.8 43.4,69.5 44.3,69.1 45.2,68.7 46.1,68.3 47.0,67.8 47.8,67.2 48.6,66.6 49.3,66.0 50.0,65.2 50.6,64.5 51.2,63.6 51.7,62.7 52.1,61.8 52.5,60.9 52.9,60.0 53.2,59.1 53.6,58.1 53.9,57.2 54.3,56.2 54.6,55.3 54.9,54.3 55.1,53.4 55.4,52.4 55.7,51.5 56.0,50.5 56.3,49.6 56.6,48.6 56.9,47.7 57.2,46.7 57.5,45.8 57.9,44.8 58.2,43.9 58.7,43.1 59.3,42.6 60.0,42.8 60.6,43.5 61.0,44.4 61.5,45.3 61.8,46.3 62.2,47.2 62.6,48.1 63.0,49.0 63.4,49.9 63.8,50.9 64.1,51.8 64.4,52.8 64.8,53.7 65.1,54.6 65.5,55.5 66.0,56.4 66.5,57.3 67.2,58.0 68.0,58.6 68.8,59.0 69.8,59.0 70.7,58.8 71.6,58.4 72.5,57.9 73.4,57.5 74.3,57.0 75.2,56.6 76.1,56.2 77.1,56.0 78.0,55.9 79.0,56.1 79.9,56.4 80.9,56.3 81.8,56.0 82.6,55.4 83.2,54.6 83.8,53.8 84.2,52.9 84.6,52.0 84.9,51.1 85.2,50.1 85.5,49.1 85.8,48.2 86.0,47.2 86.3,46.3 86.6,45.3 86.9,44.4 87.2,43.4 87.5,42.5 87.9,41.5 88.2,40.6 88.6,39.6 89.0,38.7 89.5,37.9 90.2,37.3 91.1,36.9 92.0,36.9 93.0,37.2 93.8,37.6 94.6,38.2 95.4,38.9 96.1,39.6 96.8,40.3 97.5,41.0 98.2,41.7 98.9,42.4 99.6,43.1 100.3,43.8 101.0,44.5 101.8,45.2 102.6,45.7 103.4,45.9 104.3,45.6 105.0,45.0 105.6,44.3 106.2,43.4 106.7,42.6 107.3,41.7 107.8,40.9 108.3,40.0 108.9,39.2 109.4,38.4 109.9,37.5 110.5,36.7 111.0,35.8 111.5,34.9 112.0,34.1 112.7,33.4 113.4,32.8 114.3,32.6 115.2,32.9 116.0,33.4 116.8,34.0 117.5,34.7 118.3,35.3 119.1,35.9 119.8,36.6 120.6,37.2 121.4,37.4 122.2,37.1 122.9,36.4 123.4,35.6 123.8,34.7 124.2,33.8 124.7,32.8 125.1,31.9 125.5,31.0 125.9,30.1 126.4,29.3 126.9,28.4 127.4,27.5 128.0,26.7 128.6,26.1 129.4,26.0 130.0,26.5 130.7,27.2 131.5,27.5 132.3,27.4 133.2,26.9 134.0,26.3 134.7,25.7 135.5,25.0 136.2,24.3 136.9,23.6" fill="none" stroke="#111" stroke-width="1.7" stroke-linejoin="round"/>
<path d="M19.5,119.2 20.5,119.2 21.5,119.2 22.5,119.2 23.5,119.2 24.5,119.2 25.5,119.2 26.5,119.3 27.5,119.3 28.5,119.3 29.5,119.3 30.5,119.3 31.5,119.3 32.5,119.3 33.5,119.2 34.5,119.2 35.5,119.2 36.5,119.1 37.5,119.0 38.5,118.9 39.5,118.8 40.5,118.6 41.4,118.4 42.4,118.1 43.3,117.7 44.2,117.3 45.1,116.8 45.9,116.2 46.7,115.6 47.4,115.0 48.2,114.2 48.8,113.5 49.4,112.7 50.0,111.9 50.6,111.1 51.1,110.2 51.6,109.4 52.1,108.5 52.5,107.6 52.9,106.7 53.3,105.7 53.7,104.8 54.0,103.9 54.3,102.9 54.7,102.0 55.0,101.0 55.3,100.1 55.6,99.1 55.9,98.2 56.3,97.3 56.6,96.3 57.0,95.4 57.4,94.5 57.9,93.7 58.6,93.4 59.4,93.7 60.0,94.3 60.6,95.2 61.0,96.0 61.5,96.9 61.8,97.9 62.1,98.8 62.5,99.8 62.8,100.7 63.3,101.6 63.8,102.5 64.3,103.3 64.9,104.1 65.6,104.7 66.5,105.1 67.4,105.0 68.2,104.6 69.1,104.1 70.0,103.6 70.9,103.2 71.8,102.8 72.7,102.4 73.7,102.1 74.6,101.8 75.6,101.5 76.5,101.3 77.5,101.2 78.5,100.9 79.4,100.6 80.3,100.2 81.1,99.5 81.7,98.8 82.2,97.9 82.6,97.0 83.0,96.1 83.3,95.1 83.6,94.2 83.8,93.2 84.1,92.2 84.3,91.3 84.6,90.3 84.8,89.3 85.0,88.4 85.3,87.4 85.6,86.4 85.9,85.5 86.2,84.5 86.5,83.6 86.8,82.6 87.1,81.7 87.4,80.7 87.7,79.8 88.0,78.8 88.5,77.9 89.1,77.2 89.8,76.8 90.7,76.9 91.5,77.4 92.3,78.1 93.0,78.8 93.7,79.5 94.4,80.2 95.1,80.9 95.8,81.6 96.5,82.3 97.2,83.1 97.9,83.8 98.5,84.5 99.2,85.3 99.9,86.0 100.5,86.8 101.2,87.5 101.9,88.2 102.7,88.8 103.5,89.0 104.4,88.8 105.1,88.2 105.7,87.4 106.3,86.6 106.8,85.7 107.3,84.8 107.8,84.0 108.3,83.1 108.8,82.3 109.4,81.4 109.9,80.6 110.4,79.7 110.9,78.9 111.5,78.0 112.0,77.1 112.5,76.3 113.1,75.5 113.7,74.7 114.4,74.1 115.2,74.0 116.0,74.3 116.7,75.0 117.3,75.8 118.0,76.6 118.6,77.4 119.2,78.1 120.0,78.6 120.8,78.5 121.5,78.0 122.1,77.2 122.7,76.4 123.3,75.6 123.9,74.8 124.5,74.0 125.2,73.3 125.9,72.6 126.7,72.0 127.5,71.4 128.3,70.9 129.3,70.7 130.2,70.8 131.2,71.1 132.1,71.5 133.0,72.0 133.8,72.4 134.7,72.9 135.6,73.4 136.4,73.9 137.1,74.3" fill="none" stroke="#111" stroke-width="1.7" stroke-linejoin="round"/>
<path d="M19.4,158.7 20.4,158.7 21.4,158.7 22.4,158.7 23.4,158.7 24.4,158.7 25.4,158.7 26.4,158.7 27.4,158.7 28.4,158.7 29.4,158.7 30.4,158.7 31.4,158.7 32.4,158.7 33.4,158.7 34.4,158.7 35.4,158.7 36.4,158.7 37.4,158.7 38.4,158.7 39.4,158.7 40.4,158.6 41.4,158.6 42.4,158.6 43.4,158.6 44.4,158.6 45.4,158.5 46.4,158.5 47.4,158.4 48.4,158.2 49.2,157.8 49.9,157.2 50.6,156.6 51.3,155.9 52.1,155.2 52.7,154.5 53.3,153.7 53.9,152.8 54.3,152.0 54.8,151.1 55.2,150.2 55.6,149.3 56.1,148.4 56.6,147.5 57.1,146.7 57.8,146.0 58.5,145.9 59.2,146.3 59.7,147.1 60.2,148.0 60.7,148.9 61.2,149.7 61.8,150.5 62.4,151.3 63.1,152.1 63.8,152.7 64.6,153.2 65.6,153.4 66.5,153.2 67.3,152.7 68.1,152.1 68.9,151.4 69.6,150.8 70.5,150.3 71.4,149.8 72.3,149.4 73.2,149.0 74.0,148.4 74.9,147.9 75.7,147.3 76.5,146.7 77.3,146.1 78.1,145.5 78.9,144.9 79.6,144.2 80.2,143.5 80.7,142.6 81.2,141.7 81.6,140.8 82.0,139.9 82.4,139.0 82.9,138.1 83.3,137.2 83.7,136.3 84.1,135.4 84.5,134.5 84.9,133.5 85.3,132.6 85.7,131.7 86.2,130.8 86.6,129.9 87.0,129.0 87.4,128.1 87.8,127.1 88.1,126.2 88.5,125.3 88.8,124.3 89.2,123.4 89.6,122.5 90.2,122.0 90.9,122.0 91.5,122.6 92.0,123.5 92.5,124.3 92.9,125.2 93.4,126.1 93.8,127.0 94.3,127.9 94.8,128.8 95.2,129.7 95.7,130.6 96.2,131.4 96.7,132.3 97.2,133.2 97.7,134.0 98.3,134.8 98.9,135.6 99.6,136.2 100.5,136.6 101.4,136.4 102.2,135.9 102.9,135.3 103.6,134.6 104.3,133.8 104.9,133.1 105.5,132.3 106.1,131.4 106.6,130.6 107.2,129.8 107.8,128.9 108.3,128.1 108.9,127.3 109.4,126.5 110.0,125.6 110.6,124.8 111.2,124.0 111.8,123.2 112.5,122.5 113.3,121.9 114.1,121.4 115.0,121.0 116.0,120.8 116.9,120.9 117.9,121.2 118.8,121.6 119.7,121.9 120.7,122.2 121.7,122.2 122.7,122.1 123.6,121.8 124.4,121.2 125.1,120.5 125.6,119.7 126.2,118.9 126.9,118.3 127.7,118.1 128.5,118.4 129.3,119.0 130.0,119.7 130.8,120.3 131.6,120.9 132.4,121.5 133.2,122.1 134.0,122.7 134.8,123.2 135.7,123.8" fill="none" stroke="#111" stroke-width="1.7" stroke-linejoin="round" stroke-dasharray="5.7,6.3"/>
<path d="M19.4,215.8 20.4,215.8 21.4,215.8 22.4,215.8 23.4,215.8 24.4,215.8 25.4,215.8 26.4,215.8 27.4,215.8 28.4,215.8 29.4,215.8 30.4,215.8 31.4,215.8 32.4,215.8 33.4,215.8 34.4,215.8 35.4,215.8 36.4,215.8 37.4,215.8 38.4,215.8 39.4,215.7 40.4,215.7 41.4,215.6 42.4,215.5 43.4,215.4 44.3,215.2 45.2,214.7 45.9,214.0 46.6,213.3 47.3,212.6 48.0,211.9 48.6,211.2 49.2,210.3 49.7,209.5 50.2,208.6 50.7,207.7 51.1,206.8 51.5,205.9 51.9,205.0 52.3,204.1 52.7,203.2 53.2,202.3 53.6,201.4 54.0,200.5 54.4,199.5 54.8,198.6 55.2,197.7 55.5,196.8 55.9,195.9 56.4,195.0 57.0,194.4 57.6,194.4 58.2,195.0 58.7,195.9 59.1,196.8 59.5,197.7 60.0,198.6 60.4,199.5 60.9,200.4 61.3,201.3 61.7,202.2 62.2,203.1 62.6,204.0 63.1,204.8 63.6,205.7 64.2,206.4 65.0,206.8 65.8,206.6 66.5,206.0 67.1,205.2 67.7,204.4 68.3,203.6 68.8,202.7 69.3,201.9 69.9,201.1 70.6,200.4 71.4,199.8 72.3,199.3 73.2,198.9 74.1,198.5 75.0,198.1 75.9,197.7 76.8,197.2 77.6,196.6 78.4,196.0 79.0,195.3 79.5,194.4 79.9,193.5 80.3,192.6 80.6,191.6 80.9,190.7 81.1,189.7 81.4,188.7 81.6,187.8 81.9,186.8 82.1,185.8 82.3,184.8 82.6,183.9 82.8,182.9 83.0,181.9 83.2,181.0 83.5,180.0 83.7,179.0 83.9,178.0 84.1,177.0 84.3,176.1 84.5,175.1 84.7,174.1 84.9,173.1 85.1,172.1 85.3,171.2 85.5,170.2 85.7,169.2 86.0,168.2 86.2,167.3 86.5,166.3 86.7,165.3 87.0,164.4 87.3,163.4 87.7,162.5 88.2,161.7 88.8,161.1 89.6,161.2 90.3,161.8 90.9,162.5 91.5,163.4 92.0,164.2 92.5,165.1 93.0,166.0 93.4,166.9 93.8,167.8 94.2,168.7 94.6,169.6 94.9,170.6 95.3,171.5 95.7,172.4 96.0,173.4 96.3,174.3 96.6,175.3 96.9,176.2 97.3,177.1 97.7,178.0 98.2,178.9 98.9,179.6 99.6,180.2 100.5,180.4 101.4,180.1 102.3,179.6 103.1,179.0 103.8,178.3 104.5,177.6 105.1,176.8 105.7,176.0 106.3,175.2 106.8,174.4 107.4,173.5 107.9,172.7 108.4,171.8 108.9,171.0 109.4,170.1 109.9,169.3 110.4,168.4 110.9,167.5 111.4,166.7 111.9,165.8 112.4,164.9 113.0,164.1 113.5,163.2 113.9,162.3 114.5,161.5 115.0,160.7 115.7,160.0 116.6,159.5 117.5,159.1 118.5,158.9 119.4,158.7 120.4,158.5 121.4,158.3 122.4,158.1 123.4,157.9 124.3,157.6 125.3,157.4 126.3,157.2 127.3,157.1 128.3,157.0 129.3,157.0 130.3,157.1 131.3,157.2 132.2,157.3 133.2,157.5 134.2,157.7 135.2,157.8 136.2,158.0 137.2,158.2 137.9,158.3" fill="none" stroke="#111" stroke-width="1.7" stroke-linejoin="round" stroke-dasharray="5.7,6.3"/>
<path d="M18.5,309.2 19.5,309.2 20.5,309.2 21.5,309.2 22.5,309.2 23.5,309.2 24.5,309.2 25.5,309.2 26.5,309.2 27.5,309.2 28.5,309.2 29.5,309.2 30.5,309.2 31.5,309.2 32.5,309.2 33.5,309.2 34.5,309.2 35.5,309.2 36.5,309.2 37.5,309.2 38.5,309.1 39.5,309.1 40.5,309.1 41.5,309.1 42.5,309.1 43.5,309.0 44.5,309.0 45.5,308.9 46.3,308.6 46.9,308.0 47.4,307.3 47.9,306.5 48.4,305.6 48.9,304.7 49.2,303.8 49.6,302.9 49.9,301.9 50.1,300.9 50.4,300.0 50.6,299.0 50.8,298.0 51.1,297.1 51.3,296.1 51.5,295.1 51.8,294.1 52.0,293.2 52.2,292.2 52.4,291.2 52.6,290.2 52.9,289.3 53.1,288.3 53.4,287.3 53.7,286.4 54.1,285.5 54.5,284.6 55.1,284.0 55.8,284.1 56.4,284.7 56.7,285.6 57.0,286.5 57.3,287.5 57.5,288.5 57.8,289.4 58.1,290.4 58.4,291.3 58.7,292.3 59.0,293.3 59.3,294.2 59.7,295.1 60.2,295.8 60.9,296.0 61.6,295.6 62.2,294.8 62.8,294.0 63.3,293.1 63.8,292.3 64.3,291.4 64.9,290.6 65.5,289.8 66.2,289.1 67.0,288.5 67.7,287.8 68.5,287.2 69.3,286.6 70.1,286.0 70.9,285.4 71.7,284.8 72.5,284.2 73.1,283.4 73.7,282.6 74.1,281.7 74.4,280.8 74.7,279.8 75.0,278.9 75.2,277.9 75.5,276.9 75.7,275.9 75.9,275.0 76.1,274.0 76.3,273.0 76.5,272.0 76.6,271.0 76.8,270.0 77.0,269.1 77.1,268.1 77.3,267.1 77.4,266.1 77.5,265.1 77.6,264.1 77.8,263.1 77.9,262.1 78.0,261.1 78.1,260.1 78.2,259.1 78.3,258.1 78.4,257.1 78.5,256.1 78.7,255.2 78.8,254.2 79.1,253.2 79.4,252.3 80.0,251.5 80.7,250.8 81.3,250.1 81.8,249.3 82.2,248.4 82.5,247.4 82.8,246.4 83.0,245.5 83.3,244.5 83.5,243.5 83.8,242.6 84.1,241.6 84.3,240.6 84.6,239.7 84.8,238.7 85.0,237.7 85.2,236.8 85.5,235.8 85.7,234.8 85.9,233.8 86.1,232.9 86.4,231.9 86.7,231.0 87.2,230.5 87.8,230.7 88.2,231.4 88.6,232.3 88.8,233.3 89.1,234.3 89.3,235.2 89.6,236.2 89.8,237.2 90.0,238.1 90.3,239.1 90.5,240.1 90.8,241.1 91.0,242.0 91.3,243.0 91.6,243.9 91.9,244.9 92.3,245.8 92.6,246.8 92.9,247.7 93.2,248.7 93.6,249.6 94.0,250.5 94.4,251.4 94.8,252.3 95.3,253.2 95.9,254.0 96.5,254.8 97.2,255.4 98.1,256.0 99.0,256.4 99.9,256.7 100.9,256.9 101.9,256.8 102.8,256.5 103.6,256.0 104.4,255.4 105.0,254.6 105.6,253.8 106.1,253.0 106.6,252.1 107.1,251.2 107.4,250.3 107.8,249.3 108.1,248.4 108.3,247.4 108.6,246.4 108.8,245.5 109.1,244.5 109.3,243.5 109.6,242.6 109.9,241.6 110.2,240.7 110.6,239.8 111.0,238.8 111.4,237.9 111.8,237.0 112.2,236.1 112.6,235.2 113.0,234.3 113.5,233.4 113.9,232.5 114.4,231.6 114.9,230.7 115.5,229.9 116.1,229.1 116.8,228.6 117.7,228.5 118.5,228.8 119.2,229.5 120.0,230.2 120.7,230.8 121.5,231.4 122.3,232.0 123.1,232.6 123.9,233.3 124.7,233.8 125.6,234.1 126.5,234.1 127.2,233.6 127.8,232.8 128.3,231.9 128.6,231.0 129.0,230.1 129.3,229.1 129.6,228.2 129.9,227.2 130.2,226.3 130.4,225.3 130.7,224.3 130.9,223.4 131.2,222.4 131.4,221.4 131.6,220.4 131.9,219.5 132.1,218.5 132.4,217.5 132.6,216.6 132.8,215.6 133.0,214.6 133.2,213.6 133.4,212.6 133.5,211.6 133.7,210.7 133.9,209.7 134.0,208.7 134.2,207.7 134.4,206.7 134.5,205.7 134.7,204.7 134.9,203.8 135.0,202.8 135.2,201.8 135.4,200.8 135.6,199.8 135.7,198.8 135.9,197.8 136.1,196.9 136.3,195.9 136.4,194.9 136.6,193.9 136.8,192.9 137.0,191.9 137.1,191.0 137.3,190.0 137.4,189.7" fill="none" stroke="#111" stroke-width="1.7" stroke-linejoin="round"/>
<path d="M145.0,137.2 146.0,137.2 147.0,137.2 148.0,137.2 149.0,137.2 150.0,137.2 151.0,137.2 152.0,137.2 153.0,137.2 154.0,137.2 155.0,137.2 156.0,137.2 157.0,137.2 158.0,137.2 159.0,137.2 160.0,137.2 161.0,137.1 162.0,137.1 163.0,137.1 164.0,137.1 165.0,137.0 166.0,136.9 167.0,136.8 168.0,136.6 168.9,136.3 169.9,136.0 170.7,135.5 171.6,135.0 172.5,134.5 173.3,134.0 174.1,133.4 174.9,132.8 175.7,132.2 176.5,131.6 177.3,130.9 178.0,130.3 178.7,129.5 179.3,128.8 179.9,128.0 180.5,127.1 181.0,126.3 181.6,125.5 182.1,124.6 182.6,123.8 183.1,122.9 183.6,122.0 184.1,121.1 184.6,120.2 185.0,119.3 185.4,118.4 185.7,117.5 186.1,116.6 186.5,115.6 186.8,114.7 187.2,113.8 187.6,112.8 187.9,111.9 188.3,111.0 188.6,110.0 189.0,109.1 189.3,108.2 189.6,107.2 190.0,106.3 190.3,105.3 190.6,104.4 190.9,103.4 191.2,102.5 191.6,101.5 191.9,100.6 192.3,99.7 192.7,98.7 193.1,97.8 193.5,96.9 193.9,96.0 194.3,95.1 194.7,94.2 195.2,93.3 195.6,92.4 196.1,91.5 196.6,90.6 197.1,89.8 197.7,89.0 198.4,88.5 199.3,88.4 200.1,88.8 200.8,89.4 201.4,90.2 202.0,91.0 202.7,91.7 203.4,92.4 204.0,93.2 204.7,94.0 205.4,94.6 206.2,95.1 207.1,95.1 208.0,94.7 208.7,94.0 209.4,93.3 210.0,92.5 210.7,91.8 211.3,91.0 211.9,90.2 212.6,89.5 213.3,88.7 213.9,88.0 214.6,87.3 215.3,86.5 216.0,85.8 216.7,85.1 217.4,84.4 218.2,83.9 219.1,83.5 220.1,83.4 221.0,83.6 221.9,84.1 222.7,84.6 223.6,85.0 224.5,85.1 225.4,84.8 226.1,84.2 226.7,83.4 227.2,82.6 227.7,81.7 228.1,80.8 228.5,79.8 228.8,78.9 229.2,78.0 229.5,77.0 229.8,76.0 230.1,75.1 230.4,74.1 230.6,73.2 230.9,72.2 231.2,71.3 231.5,70.3 231.8,69.3 232.1,68.4 232.4,67.4 232.6,66.5 232.9,65.5 233.2,64.5 233.5,63.6 233.7,62.6 234.0,61.7 234.3,60.7 234.6,59.8 234.9,58.8 235.2,57.8 235.5,56.9 235.8,55.9 236.1,55.0 236.4,54.0 236.7,53.1 237.0,52.1 237.3,51.2 237.7,50.2 238.0,49.3 238.4,48.4 238.9,47.5 239.4,46.6 239.9,45.8 240.4,44.9 241.0,44.1 241.6,43.3 242.2,42.5 242.8,41.7 243.4,40.9 243.9,40.1 244.5,39.2 245.0,38.4 245.5,37.5 246.0,36.6 246.5,35.8 246.9,34.9 247.4,34.0 247.8,33.1 248.2,32.2 248.6,31.2 249.0,30.3 249.4,29.4 249.8,28.5 250.1,27.5 250.5,26.6 250.8,25.7 251.2,24.7 251.6,23.8 251.9,22.9 252.3,22.0 252.7,21.0 253.1,20.1 253.5,19.2 254.0,18.3 254.5,17.5 255.0,16.6 255.6,15.8 256.2,15.0 256.8,14.2 257.5,13.5 258.3,13.0 259.2,12.7 260.0,13.0 260.6,13.7 261.2,14.5 261.6,15.1" fill="none" stroke="#111" stroke-width="1.7" stroke-linejoin="round"/>
<path d="M145.0,165.0 146.0,165.0 147.0,165.0 148.0,165.0 149.0,165.0 150.0,165.0 151.0,165.0 152.0,165.1 153.0,165.1 154.0,165.1 155.0,165.1 156.0,165.1 157.0,165.1 158.0,165.1 159.0,165.1 160.0,165.1 161.0,165.1 162.0,165.1 163.0,165.1 164.0,165.1 165.0,165.0 166.0,165.0 167.0,164.9 168.0,164.8 169.0,164.7 169.9,164.3 170.8,163.9 171.7,163.5 172.6,163.1 173.5,162.6 174.4,162.1 175.2,161.6 176.0,161.0 176.8,160.4 177.5,159.7 178.2,159.0 178.9,158.2 179.5,157.4 180.1,156.6 180.7,155.8 181.2,155.0 181.7,154.1 182.2,153.3 182.7,152.4 183.1,151.5 183.5,150.6 183.9,149.6 184.3,148.7 184.7,147.8 185.1,146.9 185.4,145.9 185.8,145.0 186.2,144.1 186.5,143.1 186.9,142.2 187.2,141.3 187.5,140.3 187.9,139.4 188.2,138.4 188.5,137.5 188.9,136.6 189.2,135.6 189.5,134.7 189.9,133.7 190.2,132.8 190.5,131.8 190.8,130.9 191.1,129.9 191.4,129.0 191.7,128.0 192.0,127.0 192.3,126.1 192.6,125.1 192.9,124.2 193.3,123.3 193.7,122.4 194.1,121.4 194.5,120.5 195.0,119.7 195.5,118.8 196.1,118.0 196.9,117.5 197.7,117.4 198.6,117.7 199.4,118.3 200.1,119.0 200.9,119.6 201.6,120.3 202.4,120.9 203.1,121.6 203.9,122.3 204.7,122.9 205.5,123.4 206.4,123.7 207.4,123.8 208.4,123.6 209.3,123.3 210.2,122.9 211.2,122.6 212.1,122.2 213.1,121.9 214.0,121.6 215.0,121.3 215.9,121.0 216.9,120.7 217.9,120.6 218.9,120.5 219.9,120.4 220.8,120.2 221.8,120.0 222.8,119.7 223.7,119.3 224.5,118.8 225.2,118.1 225.8,117.3 226.4,116.5 226.9,115.6 227.3,114.7 227.7,113.8 228.1,112.9 228.5,112.0 228.8,111.0 229.2,110.1 229.5,109.1 229.8,108.2 230.0,107.2 230.3,106.3 230.6,105.3 230.9,104.3 231.1,103.4 231.4,102.4 231.7,101.4 231.9,100.5 232.2,99.5 232.5,98.6 232.8,97.6 233.0,96.6 233.3,95.7 233.6,94.7 233.9,93.7 234.1,92.8 234.4,91.8 234.7,90.9 234.9,89.9 235.2,88.9 235.5,88.0 235.8,87.0 236.1,86.1 236.4,85.1 236.8,84.2 237.1,83.2 237.5,82.3 237.9,81.4 238.3,80.5 238.7,79.6 239.2,78.7 239.6,77.8 240.1,76.9 240.6,76.1 241.1,75.2 241.6,74.3 242.2,73.5 242.7,72.7 243.3,71.8 243.8,71.0 244.4,70.2 245.0,69.4 245.6,68.6 246.3,67.8 246.9,67.0 247.5,66.3 248.1,65.5 248.7,64.7 249.3,63.9 249.9,63.0 250.4,62.2 251.0,61.4 251.5,60.5 252.0,59.7 252.6,58.8 253.1,58.0 253.6,57.1 254.1,56.3 254.6,55.4 255.2,54.6 255.7,53.7 256.3,52.9 256.8,52.1 257.4,51.2 258.0,50.4 258.6,49.7 259.3,48.9 259.9,48.2 260.6,47.4 260.8,47.2" fill="none" stroke="#111" stroke-width="1.7" stroke-linejoin="round"/>
<path d="M145.0,186.1 146.0,186.1 147.0,186.1 148.0,186.1 149.0,186.1 150.0,186.1 151.0,186.2 152.0,186.2 153.0,186.2 154.0,186.2 155.0,186.2 156.0,186.2 157.0,186.2 158.0,186.2 159.0,186.2 160.0,186.2 161.0,186.2 162.0,186.2 163.0,186.2 164.0,186.2 165.0,186.2 166.0,186.1 167.0,186.1 168.0,186.0 169.0,185.8 170.0,185.6 170.9,185.3 171.6,184.7 172.3,184.0 173.0,183.3 173.8,182.6 174.5,182.0 175.3,181.3 176.0,180.6 176.7,179.9 177.3,179.1 177.9,178.3 178.5,177.5 179.1,176.7 179.7,175.9 180.2,175.0 180.8,174.2 181.3,173.4 181.8,172.5 182.3,171.6 182.9,170.8 183.4,169.9 183.9,169.1 184.4,168.2 184.9,167.4 185.4,166.5 185.9,165.6 186.4,164.7 186.9,163.9 187.4,163.0 187.8,162.1 188.2,161.2 188.7,160.3 189.0,159.4 189.4,158.4 189.8,157.5 190.2,156.6 190.6,155.7 191.1,154.8 191.6,154.0 192.2,153.1 192.8,152.4 193.5,151.8 194.4,151.7 195.2,152.1 195.9,152.7 196.6,153.5 197.1,154.3 197.7,155.1 198.3,155.9 198.9,156.7 199.5,157.5 200.1,158.3 200.8,159.1 201.4,159.8 202.1,160.6 202.8,161.3 203.5,162.0 204.2,162.7 205.0,163.2 205.9,163.7 206.8,164.1 207.8,164.4 208.7,164.7 209.7,164.9 210.7,165.0 211.7,165.2 212.7,165.3 213.7,165.4 214.7,165.4 215.7,165.4 216.7,165.3 217.7,165.1 218.6,164.9 219.6,164.7 220.5,164.3 221.4,163.9 222.3,163.4 223.1,162.8 223.9,162.2 224.7,161.5 225.4,160.8 226.0,160.1 226.7,159.4 227.3,158.6 228.0,157.8 228.6,157.0 229.2,156.2 229.8,155.4 230.3,154.6 230.9,153.7 231.4,152.9 231.9,152.0 232.4,151.1 232.8,150.2 233.2,149.3 233.7,148.5 234.1,147.6 234.6,146.7 235.1,145.8 235.7,145.0 236.3,144.2 237.0,143.6 237.9,143.0 238.7,142.5 239.7,142.2 240.6,141.9 241.6,141.8 242.6,141.9 243.5,142.2 244.4,142.6 245.3,142.9 246.3,142.9 247.3,142.7 248.2,142.4 249.1,142.0 250.0,141.5 250.7,140.9 251.5,140.2 252.1,139.4 252.7,138.6 253.3,137.8 253.8,137.0 254.3,136.1 254.9,135.3 255.4,134.4 255.9,133.6 256.4,132.7 256.9,131.8 257.4,130.9 257.8,130.1 258.3,129.2 258.8,128.3 259.2,127.4 259.6,126.5 260.0,125.5 260.3,124.6 260.7,123.7 261.0,122.7 261.4,121.8 261.7,121.1" fill="none" stroke="#111" stroke-width="1.7" stroke-linejoin="round" stroke-dasharray="5.7,6.3"/>
<path d="M145.0,209.2 146.0,209.2 147.0,209.2 148.0,209.2 149.0,209.2 150.0,209.2 151.0,209.2 152.0,209.2 153.0,209.2 154.0,209.2 155.0,209.2 156.0,209.2 157.0,209.2 158.0,209.2 159.0,209.2 160.0,209.1 161.0,209.1 162.0,209.1 163.0,209.1 164.0,209.1 165.0,209.1 166.0,209.1 167.0,209.1 168.0,209.1 169.0,209.0 170.0,209.0 171.0,208.9 172.0,208.9 173.0,208.7 173.9,208.5 174.8,208.1 175.7,207.6 176.6,207.1 177.3,206.5 178.1,205.8 178.8,205.1 179.4,204.3 180.1,203.6 180.7,202.8 181.4,202.1 182.1,201.3 182.7,200.6 183.4,199.8 184.0,199.0 184.6,198.3 185.2,197.5 185.8,196.6 186.3,195.8 186.9,195.0 187.5,194.2 188.0,193.3 188.6,192.5 189.2,191.7 189.9,191.0 190.6,190.2 191.3,189.7 192.2,189.4 193.1,189.6 193.9,190.2 194.6,190.9 195.3,191.6 195.9,192.4 196.5,193.1 197.1,193.9 197.7,194.7 198.4,195.5 199.0,196.3 199.7,197.0 200.4,197.6 201.3,198.1 202.2,198.2 203.2,198.1 204.2,197.9 205.1,197.7 206.1,197.4 207.1,197.1 208.0,196.8 209.0,196.6 210.0,196.4 211.0,196.2 211.9,196.0 212.9,195.8 213.9,195.6 214.9,195.3 215.8,195.1 216.8,194.8 217.7,194.5 218.7,194.1 219.6,193.8 220.5,193.4 221.4,193.0 222.3,192.5 223.2,192.0 224.0,191.4 224.8,190.8 225.6,190.2 226.3,189.5 227.0,188.8 227.8,188.1 228.4,187.4 229.1,186.7 229.7,185.9 230.3,185.1 230.8,184.2 231.4,183.4 232.0,182.6 232.5,181.8 233.2,181.0 233.8,180.2 234.5,179.5 235.3,178.9 236.1,178.4 237.0,178.2 237.8,178.6 238.6,179.2 239.2,179.9 239.8,180.7 240.4,181.5 240.9,182.4 241.5,183.2 242.0,184.1 242.5,184.9 243.1,185.8 243.7,186.5 244.4,187.3 245.2,187.9 246.0,188.4 246.9,188.8 247.8,188.8 248.7,188.4 249.4,187.8 250.1,187.0 250.7,186.3 251.4,185.6 252.2,184.9 252.9,184.2 253.7,183.6 254.5,183.0 255.3,182.4 256.1,181.8 257.0,181.4 257.9,181.0 258.8,181.0 259.7,181.4 260.5,182.0 261.2,182.7" fill="none" stroke="#111" stroke-width="1.7" stroke-linejoin="round"/>
<path d="M145.0,239.0 146.0,239.0 147.0,239.0 148.0,239.0 149.0,239.0 150.0,239.0 151.0,239.0 152.0,239.0 153.0,239.0 154.0,239.0 155.0,239.0 156.0,239.0 157.0,239.0 158.0,239.0 159.0,239.0 160.0,239.0 161.0,239.0 162.0,239.0 163.0,239.0 164.0,239.0 165.0,239.0 166.0,239.0 167.0,238.9 168.0,238.9 169.0,238.9 170.0,238.9 171.0,238.9 172.0,238.9 173.0,238.9 174.0,238.8 175.0,238.8 176.0,238.7 176.9,238.6 177.6,238.3 178.0,237.7 178.5,237.1 179.2,236.5 180.0,235.9 180.7,235.2 181.5,234.6 182.2,233.9 182.9,233.2 183.6,232.5 184.3,231.7 184.9,230.9 185.4,230.0 185.9,229.2 186.4,228.3 186.9,227.4 187.3,226.6 187.8,225.7 188.4,224.8 189.0,224.0 189.6,223.2 190.2,222.5 191.0,222.1 191.9,222.1 192.8,222.5 193.5,223.1 194.3,223.8 195.1,224.4 195.9,225.0 196.7,225.5 197.6,226.1 198.4,226.6 199.3,227.0 200.2,227.4 201.2,227.7 202.2,227.9 203.2,227.9 204.2,227.9 205.1,227.7 206.1,227.4 207.0,227.0 207.9,226.6 208.8,226.1 209.7,225.7 210.6,225.2 211.5,224.8 212.4,224.4 213.3,224.0 214.2,223.6 215.1,223.2 216.1,222.8 217.0,222.4 217.9,222.0 218.8,221.6 219.7,221.2 220.6,220.8 221.6,220.5 222.5,220.2 223.5,220.1 224.5,220.1 225.5,220.2 226.5,220.2 227.5,220.1 228.4,219.9 229.3,219.4 230.1,218.8 230.9,218.2 231.6,217.4 232.3,216.7 232.9,216.0 233.5,215.2 234.1,214.4 234.6,213.5 235.2,212.7 235.7,211.8 236.4,211.1 237.2,210.7 238.0,210.8 238.9,211.2 239.6,211.8 240.4,212.5 241.2,213.1 241.9,213.8 242.6,214.5 243.4,215.1 244.1,215.8 245.0,216.2 245.9,216.3 246.8,216.1 247.7,215.6 248.5,215.0 249.2,214.3 249.9,213.6 250.6,212.9 251.2,212.1 251.9,211.3 252.4,210.5 253.0,209.7 253.6,208.9 254.1,208.0 254.7,207.2 255.2,206.4 255.8,205.5 256.3,204.7 256.8,203.8 257.3,203.0 257.8,202.1 258.4,201.3 259.1,200.7 259.8,200.5 260.5,200.9 261.0,201.7 261.3,202.1" fill="none" stroke="#111" stroke-width="1.7" stroke-linejoin="round" stroke-dasharray="5.7,6.3"/>
<path d="M145.0,270.4 146.0,270.4 147.0,270.4 148.0,270.4 149.0,270.4 150.0,270.4 151.0,270.4 152.0,270.4 153.0,270.4 154.0,270.4 155.0,270.4 156.0,270.4 157.0,270.4 158.0,270.4 159.0,270.4 160.0,270.4 161.0,270.4 162.0,270.4 163.0,270.4 164.0,270.3 165.0,270.3 166.0,270.3 167.0,270.2 168.0,270.2 169.0,270.1 170.0,270.0 171.0,269.8 171.9,269.6 172.8,269.2 173.7,268.7 174.6,268.2 175.4,267.6 176.2,267.0 176.9,266.3 177.6,265.6 178.2,264.8 178.8,264.0 179.4,263.2 180.0,262.4 180.6,261.6 181.2,260.8 181.7,259.9 182.2,259.1 182.7,258.2 183.2,257.3 183.6,256.4 183.9,255.5 184.3,254.5 184.6,253.6 185.0,252.7 185.4,251.8 185.8,250.9 186.2,250.0 186.8,249.2 187.4,248.7 188.2,248.9 188.8,249.5 189.3,250.3 189.8,251.2 190.2,252.1 190.6,253.1 190.9,254.0 191.2,255.0 191.6,255.9 192.0,256.8 192.4,257.7 192.9,258.6 193.3,259.5 193.8,260.3 194.4,261.2 195.0,262.0 195.6,262.7 196.3,263.4 197.1,264.1 197.8,264.8 198.6,265.4 199.5,265.9 200.3,266.4 201.3,266.7 202.2,267.0 203.2,267.1 204.2,267.1 205.2,267.0 206.2,266.8 207.2,266.6 208.1,266.4 209.1,266.0 210.0,265.7 210.9,265.2 211.7,264.7 212.5,264.1 213.2,263.4 213.9,262.7 214.6,261.9 215.2,261.1 215.9,260.4 216.5,259.6 217.2,258.8 217.8,258.1 218.4,257.2 219.0,256.4 219.5,255.6 220.2,254.9 220.9,254.2 221.7,253.8 222.6,253.8 223.4,254.2 224.2,254.8 224.9,255.5 225.7,256.1 226.4,256.9 227.1,257.5 227.9,258.0 228.8,258.1 229.7,257.8 230.5,257.2 231.4,256.7 232.2,256.2 233.1,255.7 234.0,255.3 235.0,255.0 235.9,254.7 236.9,254.7 237.8,255.0 238.5,255.6 239.2,256.4 239.8,257.2 240.4,258.0 240.9,258.8 241.5,259.6 242.1,260.4 242.7,261.2 243.4,261.9 244.1,262.6 244.9,263.3 245.7,263.9 246.5,264.4 247.4,264.8 248.4,264.9 249.3,264.8 250.3,264.5 251.2,264.1 252.1,263.7 253.1,263.5 254.1,263.4 255.0,263.6 255.9,263.9 256.8,264.4 257.6,265.0 258.4,265.6 259.2,266.2 260.0,266.8 260.4,267.2" fill="none" stroke="#111" stroke-width="1.7" stroke-linejoin="round"/>
<path d="M145.0,295.0 146.0,295.0 147.0,295.0 148.0,295.0 149.0,295.0 150.0,295.0 151.0,295.0 152.0,295.0 153.0,295.0 154.0,295.0 155.0,294.9 156.0,294.9 157.0,294.9 158.0,294.9 159.0,294.9 160.0,294.9 161.0,294.9 162.0,294.9 163.0,294.9 164.0,294.8 165.0,294.8 166.0,294.8 167.0,294.8 168.0,294.7 169.0,294.7 170.0,294.6 171.0,294.5 172.0,294.3 172.9,294.0 173.7,293.5 174.3,292.8 175.0,292.1 175.7,291.4 176.4,290.6 177.0,289.8 177.5,289.0 178.0,288.1 178.5,287.2 178.9,286.3 179.3,285.4 179.7,284.5 180.1,283.6 180.5,282.7 180.9,281.7 181.3,280.8 181.7,279.9 182.1,279.0 182.5,278.1 182.9,277.2 183.3,276.3 183.7,275.3 184.1,274.4 184.6,273.5 185.0,272.6 185.4,271.7 185.8,271.0 186.5,270.7 187.1,271.1 187.6,271.9 188.1,272.8 188.5,273.7 188.8,274.6 189.2,275.6 189.6,276.5 189.9,277.4 190.2,278.4 190.5,279.4 190.8,280.3 191.1,281.3 191.4,282.2 191.7,283.2 192.0,284.1 192.4,285.0 192.8,285.9 193.3,286.8 193.7,287.7 194.2,288.6 194.8,289.4 195.4,290.2 196.1,290.9 197.0,291.4 197.9,291.8 198.8,292.0 199.8,292.1 200.8,292.2 201.8,292.2 202.8,292.2 203.8,292.2 204.8,292.2 205.8,292.1 206.8,291.9 207.8,291.7 208.7,291.3 209.5,290.8 210.3,290.2 211.1,289.5 211.8,288.8 212.5,288.1 213.1,287.4 213.8,286.6 214.5,285.9 215.2,285.2 215.9,284.4 216.5,283.7 217.2,282.9 217.9,282.2 218.6,281.5 219.4,281.0 220.3,281.0 221.1,281.3 221.9,281.9 222.6,282.6 223.4,283.2 224.2,283.9 225.0,284.4 225.9,284.9 226.8,285.2 227.8,285.4 228.8,285.4 229.8,285.3 230.7,285.0 231.6,284.5 232.4,284.0 233.3,283.6 234.2,283.1 235.1,282.9 236.0,283.0 236.8,283.5 237.4,284.2 238.0,285.0 238.6,285.9 239.2,286.7 239.8,287.4 240.5,288.1 241.3,288.8 242.1,289.4 242.9,290.0 243.7,290.5 244.6,290.9 245.6,291.1 246.6,291.2 247.6,291.2 248.6,291.2 249.6,291.2 250.6,291.4 251.5,291.6 252.5,291.8 253.5,292.0 254.5,292.3 255.4,292.5 256.4,292.7 257.4,292.9 258.4,293.1 259.4,293.3 260.3,293.5" fill="none" stroke="#111" stroke-width="1.7" stroke-linejoin="round"/>
<path d="M269.0,272.0 270.0,272.0 271.0,272.0 272.0,272.0 273.0,272.0 274.0,272.0 275.0,272.0 276.0,272.0 277.0,272.0 278.0,272.0 279.0,272.0 280.0,272.0 281.0,272.0 282.0,272.0 283.0,272.0 284.0,271.9 285.0,271.9 286.0,271.8 287.0,271.7 288.0,271.6 288.9,271.3 289.8,270.8 290.6,270.3 291.4,269.6 292.0,268.9 292.6,268.1 293.1,267.2 293.5,266.3 293.9,265.4 294.2,264.4 294.6,263.5 294.9,262.5 295.2,261.6 295.6,260.7 295.9,259.7 296.3,258.8 296.6,257.8 296.9,256.9 297.3,256.0 297.6,255.0 297.9,254.1 298.3,253.1 298.6,252.2 298.9,251.2 299.3,250.3 299.6,249.3 299.9,248.4 300.2,247.4 300.5,246.5 300.8,245.5 301.1,244.6 301.4,243.6 301.7,242.7 302.0,241.7 302.3,240.8 302.6,239.8 302.9,238.8 303.1,237.9 303.4,236.9 303.7,236.0 303.9,235.0 304.1,234.0 304.4,233.0 304.6,232.1 304.8,231.1 305.0,230.1 305.2,229.1 305.4,228.1 305.5,227.2 305.7,226.2 305.9,225.2 306.1,224.2 306.2,223.2 306.4,222.2 306.5,221.2 306.7,220.2 306.8,219.3 307.0,218.3 307.1,217.3 307.3,216.3 307.5,215.3 307.6,214.3 307.8,213.3 307.9,212.3 308.0,211.4 308.2,210.4 308.3,209.4 308.5,208.4 308.6,207.4 308.7,206.4 308.9,205.4 309.0,204.4 309.1,203.4 309.3,202.4 309.4,201.4 309.5,200.5 309.7,199.5 309.8,198.5 309.9,197.5 310.1,196.5 310.2,195.5 310.4,194.5 310.5,193.5 310.7,192.5 310.8,191.5 311.0,190.6 311.1,189.6 311.2,188.6 311.4,187.6 311.5,186.6 311.6,185.6 311.7,184.6 311.9,183.6 312.0,182.6 312.1,181.6 312.2,180.6 312.3,179.6 312.4,178.6 312.5,177.7 312.7,176.7 312.8,175.7 312.9,174.7 313.0,173.7 313.1,172.7 313.2,171.7 313.3,170.7 313.4,169.7 313.5,168.7 313.6,167.7 313.7,166.7 313.9,165.7 314.0,164.7 314.1,163.7 314.2,162.7 314.3,161.7 314.4,160.8 314.5,159.8 314.7,158.8 314.8,157.8 314.9,156.8 315.0,155.8 315.2,154.8 315.3,153.8 315.5,152.8 315.6,151.8 315.8,150.8 315.9,149.9 316.0,148.9 316.1,147.9 316.2,146.9 316.3,145.9 316.4,144.9 316.5,143.9 316.6,142.9 316.6,141.9 316.7,140.9 316.8,139.9 316.8,138.9 316.9,137.9 316.9,136.9 317.0,135.9 317.0,134.9 317.1,133.9 317.1,132.9 317.2,131.9 317.3,130.9 317.3,129.9 317.4,128.9 317.4,127.9 317.5,126.9 317.5,125.9 317.6,124.9 317.7,123.9 317.7,122.9 317.8,121.9 317.9,120.9 318.0,119.9 318.0,118.9 318.1,117.9 318.2,116.9 318.3,115.9 318.4,115.0 318.5,114.0 318.6,113.0 318.7,112.0 318.8,111.0 318.9,110.0 319.0,109.0 319.1,108.0 319.2,107.0 319.3,106.0 319.4,105.0 319.5,104.0 319.6,103.0 319.7,102.0 319.8,101.0 319.9,100.0 320.0,99.0 320.1,98.0 320.2,97.0 320.3,96.1 320.4,95.1 320.5,94.1 320.7,93.1 320.8,92.1 320.9,91.1 321.0,90.1 321.1,89.1 321.2,88.1 321.3,87.1 321.4,86.1 321.5,85.1 321.6,84.1 321.7,83.1 321.8,82.1 321.9,81.1 322.0,80.1 322.1,79.1 322.2,78.1 322.3,77.2 322.4,76.2 322.5,75.2 322.6,74.2 322.7,73.2 322.8,72.2 323.0,71.2 323.1,70.2 323.2,69.2 323.4,68.2 323.5,67.2 323.7,66.2 323.9,65.3 324.1,64.3 324.3,63.3 324.5,62.3 324.8,61.4 325.1,60.4 325.6,59.5 326.1,58.8 326.9,58.4 327.7,58.5 328.5,59.0 329.3,59.5 330.2,59.9 331.2,59.9 332.1,59.7 333.1,59.7 334.1,59.9 334.9,60.3 335.7,60.9 336.3,61.7 336.8,62.6 337.2,63.5 337.5,64.4 337.8,65.4 338.1,66.3 338.4,67.3 338.6,68.3 338.9,69.2 339.1,70.2 339.3,71.2 339.6,72.1 339.8,73.1 340.1,74.1 340.3,75.0 340.6,76.0 340.8,77.0 341.0,78.0 341.2,78.9 341.5,79.9 341.7,80.9 341.9,81.9 342.1,82.8 342.3,83.8 342.6,84.8 342.8,85.8 343.0,86.7 343.3,87.7 343.5,88.7 343.8,89.6 344.0,90.6 344.4,91.5 344.7,92.5 345.1,93.4 345.7,94.2 346.4,94.5 347.1,94.3 347.8,93.7 348.4,92.8 348.8,92.0 349.2,91.1 349.7,90.1 350.0,89.2 350.4,88.3 350.8,87.4 351.2,86.5 351.6,85.5 351.9,84.6 352.3,83.7 352.7,82.8 353.1,81.8 353.5,80.9 353.9,80.0 354.3,79.1 354.7,78.2 355.1,77.3 355.5,76.4 356.0,75.5 356.5,74.6 357.1,73.8 357.6,73.0 358.1,72.1 358.5,71.2 358.9,70.2 359.2,69.3 359.6,68.4 359.9,67.4 360.3,66.5 360.6,65.5 360.9,64.6 361.2,63.6 361.4,62.7 361.7,61.7 361.9,60.7 362.2,59.8 362.4,58.8 362.6,57.8 362.9,56.8 363.1,55.9 363.3,54.9 363.5,53.9 363.7,52.9 363.9,51.9 364.1,51.0 364.3,50.0 364.5,49.0 364.7,48.0 364.9,47.1 365.1,46.1 365.4,45.1 365.6,44.1 365.8,43.1 366.0,42.2 366.2,41.2 366.4,40.2 366.7,39.2 366.9,38.3 367.1,37.3 367.4,36.3 367.7,35.4 368.0,34.4 368.2,33.5 368.5,32.5 368.8,31.5 369.2,30.6 369.5,29.7 369.9,28.8 370.4,27.9 371.0,27.1 371.6,26.3 372.3,25.6 373.0,24.9 373.8,24.3 374.6,23.7 375.5,23.1 376.3,22.6 377.1,22.1 378.0,21.9 378.7,22.2 379.4,22.9 380.0,23.7 380.6,24.5 381.1,25.4 381.5,26.3 381.9,27.2 382.2,28.1 382.5,29.1 382.8,30.1 383.1,31.0 383.3,32.0 383.6,33.0 383.8,33.9 384.0,34.9 384.2,35.9 384.3,36.9 384.5,37.9 384.7,38.8 384.9,39.8 385.1,40.8 385.2,41.8 385.4,42.8 385.6,43.8 385.7,44.8 385.9,45.7 386.1,46.7 386.2,47.7 386.4,48.7 386.6,49.7 386.8,50.7 387.0,51.7 387.2,52.6 387.4,53.6 387.7,54.5 388.2,55.2 388.5,55.5" fill="none" stroke="#111" stroke-width="1.5" stroke-linejoin="round"/>
<path d="M286.0,271.9 287.0,271.8 288.0,271.6 289.0,271.4 289.9,271.2 290.8,270.8 291.7,270.3 292.5,269.7 293.2,269.0 293.8,268.2 294.4,267.4 294.9,266.5 295.4,265.6 295.8,264.7 296.3,263.8 296.7,262.9 297.1,262.0 297.5,261.1 297.9,260.2 298.3,259.3 298.7,258.4 299.0,257.4 299.4,256.5 299.8,255.6 300.1,254.6 300.5,253.7 300.9,252.8 301.2,251.8 301.6,250.9 302.0,250.0 302.3,249.1 302.7,248.1 303.1,247.2 303.4,246.3 303.8,245.3 304.1,244.4 304.5,243.5 304.9,242.5 305.3,241.6 305.7,240.7 306.0,239.8 306.4,238.8 306.8,237.9 307.1,237.0 307.5,236.0 307.8,235.1 308.2,234.2 308.5,233.2 308.8,232.3 309.1,231.3 309.4,230.4 309.7,229.4 310.0,228.4 310.2,227.5 310.5,226.5 310.8,225.5 311.0,224.6 311.3,223.6 311.5,222.6 311.8,221.7 312.0,220.7 312.2,219.7 312.5,218.8 312.7,217.8 312.9,216.8 313.1,215.8 313.3,214.8 313.5,213.9 313.7,212.9 313.9,211.9 314.0,210.9 314.2,209.9 314.3,208.9 314.5,207.9 314.6,207.0 314.8,206.0 314.9,205.0 315.0,204.0 315.1,203.0 315.2,202.0 315.4,201.0 315.5,200.0 315.6,199.0 315.7,198.0 315.9,197.0 316.0,196.0 316.1,195.0 316.2,194.0 316.3,193.1 316.4,192.1 316.5,191.1 316.6,190.1 316.7,189.1 316.8,188.1 317.0,187.1 317.1,186.1 317.2,185.1 317.3,184.1 317.4,183.1 317.6,182.1 317.7,181.1 317.8,180.1 318.0,179.2 318.1,178.2 318.2,177.2 318.4,176.2 318.5,175.2 318.6,174.2 318.8,173.2 318.9,172.2 319.0,171.2 319.2,170.2 319.3,169.2 319.4,168.3 319.6,167.3 319.7,166.3 319.8,165.3 319.9,164.3 320.1,163.3 320.2,162.3 320.3,161.3 320.5,160.3 320.6,159.3 320.8,158.3 320.9,157.4 321.1,156.4 321.3,155.4 321.5,154.4 321.6,153.4 321.8,152.4 322.0,151.5 322.2,150.5 322.5,149.5 322.8,148.5 323.1,147.6 323.5,146.7 324.0,145.8 324.6,145.1 325.3,144.3 326.0,143.6 326.7,143.0 327.4,142.2 328.1,141.5 328.7,140.7 329.4,140.0 330.0,139.2 330.7,138.4 331.3,137.7 331.9,136.9 332.5,136.1 333.1,135.3 333.7,134.5 334.3,133.7 334.9,132.9 335.7,132.3 336.5,132.0 337.3,132.3 337.9,133.0 338.3,133.8 338.7,134.8 339.0,135.7 339.3,136.7 339.7,137.6 340.0,138.6 340.3,139.5 340.6,140.5 340.9,141.4 341.1,142.4 341.4,143.3 341.7,144.3 341.9,145.3 342.2,146.2 342.5,147.2 342.8,148.2 343.1,149.1 343.4,150.0 343.8,151.0 344.2,151.9 344.6,152.8 345.1,153.7 345.6,154.5 346.3,155.1 347.1,155.2 348.0,154.9 348.7,154.2 349.4,153.5 350.0,152.7 350.7,152.0 351.5,151.4 352.4,150.9 353.3,150.5 354.1,149.9 354.9,149.3 355.5,148.6 356.2,147.8 356.7,147.0 357.3,146.1 357.8,145.3 358.2,144.4 358.6,143.4 359.0,142.5 359.3,141.6 359.6,140.6 360.0,139.7 360.2,138.7 360.5,137.8 360.8,136.8 361.0,135.8 361.3,134.9 361.5,133.9 361.8,132.9 362.0,132.0 362.3,131.0 362.5,130.0 362.8,129.1 363.0,128.1 363.3,127.1 363.6,126.2 363.9,125.2 364.2,124.3 364.5,123.3 364.9,122.4 365.2,121.5 365.7,120.5 366.1,119.6 366.6,118.8 367.0,117.9 367.6,117.0 368.1,116.2 368.7,115.4 369.2,114.5 369.8,113.7 370.4,112.9 371.0,112.1 371.6,111.3 372.2,110.5 372.8,109.7 373.3,108.9 373.9,108.1 374.5,107.2 375.1,106.4 375.7,105.6 376.3,104.9 377.0,104.1 377.7,103.4 378.5,102.8 379.4,102.6 380.3,102.7 381.0,103.2 381.6,104.0 382.1,104.8 382.6,105.7 383.0,106.6 383.3,107.6 383.6,108.5 383.9,109.5 384.2,110.4 384.5,111.4 384.8,112.3 385.0,113.3 385.3,114.3 385.5,115.3 385.8,116.2 386.0,117.2 386.2,118.2 386.5,119.1 386.7,120.1 387.0,121.1 387.1,121.8" fill="none" stroke="#111" stroke-width="1.5" stroke-linejoin="round"/>
<path d="M287.0,271.9 288.0,271.8 289.0,271.6 290.0,271.4 290.9,271.2 291.8,270.8 292.7,270.3 293.6,269.8 294.3,269.2 295.0,268.5 295.7,267.7 296.3,266.9 296.8,266.0 297.3,265.2 297.8,264.3 298.2,263.4 298.7,262.5 299.2,261.7 299.7,260.8 300.2,259.9 300.7,259.1 301.2,258.2 301.7,257.3 302.1,256.4 302.6,255.5 303.1,254.7 303.5,253.8 304.0,252.9 304.4,252.0 304.9,251.1 305.3,250.2 305.7,249.3 306.2,248.4 306.6,247.5 307.0,246.6 307.5,245.7 307.9,244.8 308.3,243.9 308.8,243.0 309.2,242.1 309.7,241.2 310.1,240.3 310.6,239.4 311.0,238.5 311.5,237.6 311.9,236.7 312.3,235.8 312.7,234.9 313.1,234.0 313.4,233.0 313.8,232.1 314.1,231.1 314.4,230.2 314.7,229.2 315.0,228.3 315.2,227.3 315.5,226.3 315.7,225.4 316.0,224.4 316.2,223.4 316.5,222.5 316.7,221.5 316.9,220.5 317.2,219.5 317.4,218.6 317.6,217.6 317.8,216.6 318.1,215.6 318.3,214.7 318.5,213.7 318.7,212.7 318.9,211.7 319.0,210.7 319.2,209.7 319.3,208.8 319.5,207.8 319.6,206.8 319.8,205.8 320.0,204.8 320.3,203.9 320.5,202.9 320.8,201.9 321.0,200.9 321.3,200.0 321.5,199.0 321.8,198.1 322.1,197.1 322.4,196.1 322.7,195.2 323.1,194.3 323.4,193.3 323.8,192.4 324.2,191.5 324.7,190.6 325.3,189.8 326.0,189.1 326.8,188.6 327.7,188.2 328.6,187.7 329.5,187.3 330.3,186.7 331.0,186.0 331.7,185.3 332.2,184.4 332.6,183.5 333.1,182.6 333.5,181.7 334.0,180.8 334.4,180.0 335.0,179.1 335.6,178.4 336.3,177.9 337.2,177.8 338.0,178.3 338.6,179.0 339.1,179.8 339.6,180.7 340.1,181.6 340.6,182.5 341.0,183.4 341.4,184.3 341.9,185.2 342.3,186.1 342.8,186.9 343.3,187.8 344.0,188.6 344.7,189.3 345.4,189.9 346.3,190.3 347.2,190.7 348.2,191.0 349.1,191.4 350.0,191.8 350.8,192.4 351.6,192.9 352.5,193.1 353.3,192.8 354.1,192.2 354.7,191.5 355.3,190.7 355.9,189.9 356.4,189.0 356.9,188.2 357.4,187.3 357.9,186.4 358.4,185.5 358.9,184.7 359.4,183.8 359.9,182.9 360.4,182.1 360.9,181.2 361.4,180.3 361.9,179.5 362.3,178.6 362.8,177.7 363.3,176.8 363.7,175.9 364.2,175.0 364.7,174.1 365.1,173.3 365.6,172.4 366.1,171.5 366.5,170.6 367.0,169.7 367.5,168.9 368.0,168.0 368.5,167.1 369.0,166.3 369.5,165.4 370.0,164.6 370.6,163.7 371.1,162.9 371.7,162.1 372.3,161.2 372.9,160.4 373.5,159.6 374.1,158.8 374.7,158.0 375.3,157.3 376.0,156.5 376.6,155.8 377.4,155.1 378.1,154.5 379.0,154.1 380.0,154.0 380.9,154.3 381.7,154.9 382.4,155.5 383.0,156.3 383.6,157.1 384.2,158.0 384.6,158.8 385.1,159.7 385.5,160.7 385.9,161.6 386.2,162.5 386.6,163.4 387.0,164.4 387.3,165.3 387.7,166.2 388.0,167.2 388.2,167.6" fill="none" stroke="#111" stroke-width="1.5" stroke-linejoin="round"/>
<path d="M288.0,271.9 289.0,271.8 290.0,271.6 291.0,271.4 291.9,271.2 292.8,270.8 293.7,270.4 294.6,269.9 295.4,269.3 296.2,268.7 297.0,268.0 297.7,267.3 298.3,266.6 299.0,265.8 299.6,265.0 300.2,264.2 300.8,263.4 301.4,262.6 302.0,261.8 302.6,261.0 303.2,260.2 303.8,259.4 304.4,258.6 305.0,257.8 305.5,257.0 306.1,256.1 306.6,255.3 307.1,254.4 307.6,253.6 308.1,252.7 308.6,251.8 309.0,250.9 309.5,250.0 310.0,249.1 310.4,248.3 310.9,247.4 311.3,246.5 311.8,245.6 312.3,244.7 312.7,243.8 313.2,243.0 313.7,242.1 314.2,241.2 314.7,240.3 315.2,239.5 315.7,238.6 316.2,237.7 316.6,236.8 317.1,236.0 317.6,235.1 318.0,234.2 318.5,233.3 318.9,232.4 319.3,231.5 319.7,230.5 320.0,229.6 320.3,228.6 320.5,227.7 320.7,226.7 321.0,225.7 321.2,224.7 321.5,223.8 321.8,222.8 322.1,221.9 322.5,221.0 323.0,220.1 323.5,219.2 324.0,218.4 324.5,217.5 325.2,216.8 326.0,216.2 326.8,215.6 327.7,215.1 328.5,214.6 329.4,214.1 330.2,213.6 331.1,213.1 331.9,212.5 332.7,212.0 333.6,211.5 334.5,211.1 335.5,210.9 336.5,210.9 337.4,211.1 338.3,211.6 339.1,212.2 339.8,212.9 340.5,213.6 341.1,214.4 341.8,215.1 342.5,215.8 343.3,216.4 344.1,217.0 345.0,217.5 345.9,217.9 346.8,218.2 347.8,218.3 348.8,218.2 349.7,218.1 350.7,218.3 351.6,218.6 352.5,219.0 353.5,219.1 354.4,219.0 355.3,218.6 356.1,218.0 356.9,217.4 357.6,216.7 358.3,216.0 359.0,215.2 359.6,214.5 360.2,213.7 360.8,212.9 361.4,212.0 361.9,211.2 362.5,210.4 363.0,209.5 363.6,208.7 364.2,207.9 364.7,207.1 365.3,206.3 365.9,205.5 366.5,204.7 367.1,203.9 367.7,203.1 368.4,202.3 369.0,201.5 369.6,200.7 370.2,200.0 370.9,199.2 371.6,198.5 372.3,197.7 373.0,197.1 373.8,196.4 374.6,195.9 375.4,195.3 376.3,194.8 377.1,194.3 378.0,193.8 378.9,193.5 379.9,193.4 380.9,193.5 381.8,193.9 382.7,194.3 383.6,194.8 384.4,195.4 385.2,196.0 385.9,196.7 386.5,197.5 387.1,198.3 387.7,199.1 388.2,199.9" fill="none" stroke="#111" stroke-width="1.5" stroke-linejoin="round"/>
<path d="M290.0,271.9 291.0,271.8 292.0,271.7 293.0,271.6 294.0,271.5 295.0,271.3 295.9,271.1 296.9,271.0 297.9,270.8 298.9,270.5 299.8,270.2 300.7,269.8 301.6,269.4 302.5,268.9 303.4,268.4 304.3,267.9 305.1,267.4 306.0,266.9 306.8,266.4 307.7,265.8 308.5,265.3 309.3,264.7 310.1,264.1 310.9,263.5 311.7,262.9 312.5,262.3 313.3,261.6 314.0,261.0 314.8,260.3 315.5,259.6 316.3,259.0 317.0,258.3 317.7,257.6 318.4,256.9 319.1,256.2 319.8,255.5 320.5,254.8 321.2,254.0 321.9,253.3 322.7,252.6 323.4,252.0 324.1,251.3 324.8,250.6 325.6,249.9 326.3,249.2 327.1,248.6 327.9,248.0 328.7,247.4 329.5,246.8 330.4,246.4 331.3,245.9 332.2,245.5 333.0,245.0 333.9,244.4 334.6,243.8 335.4,243.2 336.2,242.6 337.1,242.2 338.0,242.1 338.9,242.5 339.6,243.1 340.3,243.8 341.1,244.4 342.0,244.8 342.9,244.8 343.8,244.5 344.7,244.0 345.6,243.5 346.5,243.1 347.4,242.9 348.4,243.1 349.2,243.5 350.0,244.1 350.8,244.7 351.6,245.4 352.4,245.9 353.3,246.2 354.2,246.1 355.1,245.7 355.8,245.1 356.6,244.4 357.3,243.7 358.0,243.0 358.7,242.3 359.4,241.6 360.1,240.9 360.8,240.2 361.6,239.5 362.3,238.9 363.1,238.3 363.9,237.7 364.8,237.2 365.6,236.6 366.4,236.0 367.3,235.5 368.1,234.9 368.9,234.4 369.8,233.8 370.6,233.3 371.4,232.7 372.3,232.2 373.1,231.7 374.0,231.1 374.8,230.6 375.7,230.1 376.6,229.7 377.5,229.2 378.4,228.8 379.3,228.4 380.3,228.1 381.2,227.9 382.2,227.9 383.1,228.1 384.1,228.5 384.9,229.0 385.8,229.5 386.6,230.1 387.4,230.6 387.8,230.9" fill="none" stroke="#111" stroke-width="1.5" stroke-linejoin="round" stroke-dasharray="5.7,6.3"/>
<path d="M269.0,282.6 270.0,282.6 271.0,282.6 272.0,282.6 273.0,282.6 274.0,282.6 275.0,282.6 276.0,282.6 277.0,282.6 278.0,282.6 279.0,282.6 280.0,282.6 281.0,282.6 282.0,282.6 283.0,282.6 284.0,282.6 285.0,282.6 286.0,282.6 287.0,282.6 288.0,282.6 289.0,282.6 290.0,282.6 291.0,282.6 292.0,282.5 293.0,282.5 294.0,282.5 295.0,282.4 296.0,282.3 296.8,282.0 297.6,281.5 298.4,281.0 299.2,280.4 300.1,280.0 301.0,279.6 301.9,279.1 302.8,278.7 303.8,278.3 304.7,277.9 305.6,277.5 306.4,277.0 307.3,276.5 308.2,276.1 309.1,275.6 309.9,275.1 310.8,274.5 311.7,274.0 312.5,273.5 313.3,272.9 314.2,272.4 315.0,271.8 315.8,271.2 316.5,270.6 317.3,269.9 318.0,269.2 318.8,268.5 319.5,267.8 320.2,267.1 320.9,266.4 321.6,265.7 322.3,265.0 323.0,264.3 323.8,263.6 324.5,263.0 325.3,262.3 326.1,261.7 326.9,261.2 327.8,260.7 328.7,260.3 329.6,259.8 330.5,259.4 331.4,259.0 332.3,258.6 333.2,258.2 334.2,257.8 335.1,257.4 336.0,257.1 337.0,256.8 337.9,256.6 338.9,256.5 339.9,256.5 340.9,256.6 341.9,256.8 342.9,257.0 343.8,257.2 344.8,257.5 345.8,257.7 346.8,257.9 347.7,258.1 348.7,258.3 349.7,258.5 350.7,258.7 351.7,258.8 352.7,258.9 353.6,258.8 354.6,258.5 355.5,258.0 356.3,257.4 357.0,256.8 357.8,256.2 358.6,255.5 359.4,254.9 360.1,254.3 360.9,253.6 361.6,253.0 362.4,252.3 363.2,251.7 363.9,251.0 364.7,250.4 365.4,249.7 366.2,249.1 367.0,248.4 367.7,247.8 368.5,247.2 369.3,246.5 370.1,245.9 370.9,245.4 371.7,244.8 372.6,244.2 373.4,243.7 374.2,243.2 375.1,242.6 375.8,242.0 376.6,241.3 377.3,240.6 378.0,239.9 378.7,239.2 379.6,238.7 380.5,238.3 381.4,238.0 382.4,238.0 383.4,238.2 384.2,238.6 385.0,239.2 385.7,239.9 386.4,240.6 387.1,241.3 387.8,242.0" fill="none" stroke="#111" stroke-width="1.5" stroke-linejoin="round"/>
<path d="M269.0,291.7 270.0,291.7 271.0,291.7 272.0,291.7 273.0,291.7 274.0,291.7 275.0,291.7 276.0,291.7 277.0,291.7 278.0,291.7 279.0,291.7 280.0,291.7 281.0,291.7 282.0,291.7 283.0,291.7 284.0,291.7 285.0,291.7 286.0,291.7 287.0,291.7 288.0,291.7 289.0,291.7 290.0,291.7 291.0,291.7 292.0,291.7 293.0,291.7 294.0,291.7 295.0,291.7 296.0,291.6 297.0,291.6 298.0,291.6 299.0,291.6 299.9,291.4 300.6,291.2 301.2,290.7 301.9,290.1 302.7,289.6 303.5,289.1 304.4,288.5 305.3,288.0 306.1,287.6 307.1,287.2 308.0,286.8 308.9,286.5 309.9,286.2 310.8,285.8 311.8,285.5 312.7,285.2 313.7,284.9 314.6,284.7 315.6,284.4 316.6,284.2 317.5,283.9 318.5,283.6 319.5,283.3 320.4,283.0 321.4,282.7 322.3,282.4 323.2,282.0 324.1,281.6 325.1,281.2 326.0,280.8 326.9,280.4 327.8,280.1 328.8,279.7 329.7,279.4 330.7,279.0 331.6,278.7 332.6,278.4 333.5,278.1 334.5,277.9 335.5,277.7 336.4,277.5 337.4,277.4 338.4,277.3 339.4,277.3 340.4,277.4 341.4,277.6 342.4,277.8 343.4,278.0 344.3,278.2 345.3,278.3 346.3,278.4 347.3,278.5 348.3,278.6 349.3,278.7 350.3,278.7 351.3,278.7 352.3,278.5 353.3,278.3 354.2,277.9 355.0,277.4 355.8,276.8 356.6,276.2 357.4,275.5 358.1,274.8 358.8,274.1 359.5,273.4 360.3,272.8 361.0,272.1 361.7,271.4 362.4,270.6 363.1,269.9 363.8,269.2 364.5,268.5 365.2,267.8 365.9,267.1 366.7,266.4 367.4,265.8 368.2,265.1 368.9,264.5 369.7,263.8 370.5,263.2 371.3,262.6 372.1,262.0 372.9,261.4 373.7,260.8 374.5,260.2 375.3,259.7 376.2,259.1 377.0,258.6 377.9,258.1 378.8,257.6 379.6,257.1 380.6,256.7 381.5,256.4 382.4,256.2 383.4,256.3 384.3,256.6 385.1,257.2 385.8,257.8 386.5,258.6 387.2,259.3 387.8,260.1 388.0,260.3" fill="none" stroke="#111" stroke-width="1.5" stroke-linejoin="round"/>
<path d="M269.0,301.8 270.0,301.8 271.0,301.8 272.0,301.8 273.0,301.8 274.0,301.8 275.0,301.8 276.0,301.8 277.0,301.8 278.0,301.8 279.0,301.8 280.0,301.8 281.0,301.8 282.0,301.8 283.0,301.8 284.0,301.8 285.0,301.8 286.0,301.8 287.0,301.8 288.0,301.8 289.0,301.8 290.0,301.8 291.0,301.8 292.0,301.8 293.0,301.8 294.0,301.8 295.0,301.8 296.0,301.8 297.0,301.8 298.0,301.7 298.9,301.6 299.9,301.3 300.8,301.0 301.8,300.8 302.7,300.5 303.7,300.2 304.7,300.0 305.6,299.7 306.6,299.4 307.5,299.1 308.5,298.8 309.4,298.4 310.4,298.1 311.3,297.7 312.2,297.4 313.2,297.0 314.1,296.7 315.0,296.3 316.0,296.0 316.9,295.6 317.8,295.2 318.8,294.9 319.7,294.5 320.6,294.2 321.6,294.2 322.5,294.4 323.5,294.7 324.4,294.8 325.3,294.6 326.2,294.2 327.1,293.7 327.9,293.1 328.7,292.5 329.5,292.0 330.4,291.5 331.3,291.0 332.2,290.6 333.1,290.1 334.0,289.7 334.9,289.3 335.9,289.0 336.8,288.7 337.8,288.4 338.7,288.2 339.7,288.0 340.7,287.8 341.7,287.6 342.7,287.4 343.7,287.3 344.7,287.2 345.6,287.2 346.6,287.1 347.6,287.1 348.6,287.1 349.6,287.0 350.6,287.0 351.6,286.9 352.6,286.8 353.6,286.6 354.6,286.4 355.5,286.1 356.5,285.7 357.4,285.3 358.3,284.9 359.2,284.4 360.1,284.0 360.9,283.5 361.8,283.0 362.7,282.5 363.5,282.0 364.4,281.5 365.2,280.9 366.1,280.4 366.9,279.9 367.8,279.3 368.6,278.7 369.4,278.2 370.2,277.6 371.0,277.0 371.8,276.4 372.6,275.8 373.5,275.3 374.4,274.8 375.2,274.3 376.1,273.8 377.0,273.3 377.9,272.9 378.8,272.5 379.7,272.1 380.6,271.7 381.6,271.5 382.6,271.5 383.5,271.7 384.4,272.2 385.2,272.8 385.9,273.5 386.6,274.2 387.3,274.9 387.8,275.4" fill="none" stroke="#111" stroke-width="1.5" stroke-linejoin="round"/>
<path d="M269.0,313.3 270.0,313.3 271.0,313.3 272.0,313.3 273.0,313.3 274.0,313.3 275.0,313.3 276.0,313.3 277.0,313.3 278.0,313.3 279.0,313.3 280.0,313.4 281.0,313.4 282.0,313.4 283.0,313.4 284.0,313.4 285.0,313.4 286.0,313.4 287.0,313.4 288.0,313.4 289.0,313.4 290.0,313.4 291.0,313.4 292.0,313.4 293.0,313.4 294.0,313.4 295.0,313.4 296.0,313.4 297.0,313.4 298.0,313.4 299.0,313.4 300.0,313.4 301.0,313.4 302.0,313.4 302.9,313.3 303.8,313.1 304.7,312.9 305.7,312.6 306.7,312.4 307.6,312.1 308.6,311.9 309.6,311.6 310.5,311.3 311.5,311.1 312.4,310.8 313.4,310.5 314.4,310.2 315.3,309.9 316.3,309.6 317.2,309.3 318.2,309.0 319.1,308.7 320.1,308.4 321.1,308.3 322.0,308.4 323.0,308.7 323.9,309.0 324.9,309.2 325.9,309.4 326.9,309.4 327.9,309.4 328.8,309.1 329.7,308.7 330.6,308.2 331.4,307.7 332.2,307.0 333.0,306.4 333.7,305.7 334.3,304.9 335.0,304.2 335.6,303.4 336.3,302.7 336.9,301.9 337.6,301.2 338.5,300.7 339.4,300.6 340.3,300.9 341.2,301.3 342.0,301.8 342.9,302.3 343.8,302.8 344.7,303.1 345.7,303.4 346.7,303.5 347.7,303.5 348.7,303.5 349.7,303.5 350.7,303.5 351.7,303.4 352.7,303.4 353.6,303.3 354.6,303.1 355.6,302.9 356.5,302.5 357.4,302.1 358.3,301.6 359.1,301.0 359.8,300.3 360.6,299.7 361.4,299.0 362.1,298.4 362.9,297.8 363.7,297.2 364.5,296.6 365.3,296.0 366.1,295.4 366.9,294.8 367.7,294.2 368.6,293.6 369.4,293.1 370.2,292.5 371.1,292.0 371.9,291.4 372.7,290.9 373.6,290.4 374.5,289.9 375.3,289.4 376.2,288.9 377.1,288.4 377.9,287.9 378.8,287.4 379.7,286.9 380.5,286.4 381.4,286.0 382.4,285.6 383.3,285.4 384.3,285.5 385.1,285.9 385.9,286.5 386.5,287.3 387.1,288.1 387.7,288.9 388.0,289.3" fill="none" stroke="#111" stroke-width="1.5" stroke-linejoin="round"/>
<path d="M405.2,67.0 406.0,66.3 406.7,65.7 407.5,65.0 408.2,64.4 409.0,63.7 409.7,63.0 410.4,62.4 411.2,61.7 411.9,61.0 412.6,60.3 413.3,59.6 414.0,58.8 414.7,58.1 415.3,57.3 416.0,56.6 416.6,55.9 417.3,55.1 418.0,54.4 418.7,53.6 419.4,52.9 420.1,52.2 420.9,51.6 421.6,51.0 422.4,50.4 423.3,49.9 424.2,49.5 425.2,49.3 426.2,49.1 427.2,49.0 428.2,49.0 429.2,49.0 430.2,49.1 431.2,49.2 432.1,49.3 433.1,49.5 434.1,49.6 435.1,49.7 436.1,49.8 437.1,49.7 438.1,49.7 439.1,49.5 440.1,49.4 441.1,49.3 442.1,49.1 443.1,49.0 444.1,48.9 445.0,48.7 446.0,48.6 447.0,48.5 448.0,48.4 449.0,48.2 450.0,48.2 451.0,48.1 452.0,48.1 453.0,48.1 454.0,48.0 455.0,47.9 456.0,47.7 456.9,47.4 457.8,47.0 458.7,46.5 459.5,45.9 460.3,45.3 461.0,44.6 461.6,43.8 462.3,43.1 462.9,42.2 463.4,41.4 464.0,40.6 464.6,39.8 465.1,39.0 465.7,38.1" fill="none" stroke="#111" stroke-width="1.5" stroke-linejoin="round"/>
<path d="M404.3,88.7 405.3,88.6 406.3,88.5 407.3,88.4 408.3,88.3 409.3,88.1 410.2,87.9 411.2,87.5 412.1,87.1 412.9,86.6 413.7,86.0 414.5,85.4 415.3,84.8 416.0,84.1 416.7,83.4 417.4,82.7 418.0,81.9 418.6,81.1 419.3,80.3 419.9,79.5 420.5,78.8 421.3,78.1 422.0,77.4 422.8,76.9 423.7,76.4 424.6,75.9 425.5,75.6 426.5,75.3 427.4,75.0 428.4,74.8 429.4,74.6 430.4,74.5 431.4,74.4 432.4,74.3 433.4,74.1 434.3,73.9 435.3,73.7 436.3,73.4 437.3,73.2 438.2,73.1 439.2,73.0 440.2,73.0 441.2,73.0 442.2,73.1 443.2,73.1 444.2,73.2 445.2,73.3 446.2,73.5 447.2,73.6 448.2,73.8 449.2,73.9 450.2,74.1 451.2,74.2 452.2,74.3 453.1,74.4 454.1,74.5 455.1,74.4 456.1,74.3 457.1,74.0 457.9,73.5 458.7,73.0 459.5,72.3 460.2,71.6 460.9,70.9 461.6,70.1 462.2,69.3 462.7,68.5 463.3,67.7 463.8,66.8 464.3,66.0 464.9,65.1 465.5,64.3 466.1,63.5" fill="none" stroke="#111" stroke-width="1.5" stroke-linejoin="round"/>
<path d="M402.5,114.7 403.1,113.9 403.7,113.1 404.4,112.3 405.0,111.6 405.6,110.8 406.2,110.0 406.9,109.2 407.5,108.5 408.2,107.7 408.9,107.0 409.5,106.3 410.2,105.5 410.9,104.8 411.6,104.1 412.3,103.4 413.0,102.7 413.8,102.0 414.6,101.4 415.4,100.8 416.3,100.4 417.2,100.1 418.2,100.1 419.1,100.3 420.0,100.7 420.9,101.3 421.7,101.8 422.5,102.4 423.4,102.9 424.2,103.4 425.2,103.8 426.1,104.1 427.1,104.4 428.0,104.7 429.0,105.0 429.9,105.3 430.9,105.5 431.9,105.8 432.8,106.0 433.8,106.3 434.8,106.5 435.7,106.7 436.7,107.0 437.7,107.2 438.7,107.4 439.6,107.7 440.6,107.9 441.6,108.1 442.6,108.4 443.5,108.6 444.5,108.7 445.5,108.9 446.5,109.1 447.5,109.1 448.5,109.2 449.5,109.1 450.5,109.0 451.4,108.7 452.2,108.2 453.0,107.5 453.6,106.8 454.1,105.9 454.6,105.1 455.0,104.2 455.4,103.2 455.7,102.3 456.1,101.3 456.4,100.4 456.7,99.4 457.0,98.5 457.3,97.5 457.6,96.6 457.9,95.6 458.2,94.7 458.5,93.7 458.8,92.8 459.1,91.8 459.4,90.9 459.7,89.9 460.0,89.0 460.3,88.0 460.6,87.1 461.0,86.1 461.3,85.2 461.7,84.3 462.2,83.4 462.8,82.6 463.6,82.0 464.4,81.4" fill="none" stroke="#111" stroke-width="1.5" stroke-linejoin="round"/>
<path d="M402.5,142.5 403.3,141.9 404.0,141.2 404.8,140.6 405.6,139.9 406.3,139.3 407.1,138.7 407.9,138.0 408.6,137.4 409.4,136.7 410.2,136.1 410.9,135.5 411.7,134.8 412.4,134.1 413.1,133.4 413.8,132.7 414.5,132.0 415.3,131.3 416.1,130.7 417.0,130.3 417.9,130.1 418.9,130.1 419.9,130.3 420.8,130.7 421.7,131.2 422.5,131.6 423.4,132.1 424.3,132.6 425.2,133.0 426.2,133.3 427.1,133.6 428.1,133.8 429.1,134.0 430.1,134.3 431.0,134.5 432.0,134.7 433.0,134.8 434.0,135.0 435.0,135.2 435.9,135.4 436.9,135.6 437.9,135.7 438.9,136.0 439.9,136.2 440.8,136.4 441.8,136.6 442.8,136.8 443.8,137.0 444.8,137.1 445.8,137.1 446.7,137.0 447.7,136.7 448.6,136.3 449.4,135.7 450.1,135.0 450.7,134.2 451.3,133.4 451.8,132.5 452.3,131.7 452.8,130.8 453.3,129.9 453.7,129.0 454.2,128.1 454.6,127.2 455.0,126.3 455.3,125.4 455.7,124.4 456.1,123.5 456.5,122.6 456.8,121.7 457.2,120.7 457.6,119.8 458.0,118.9 458.4,118.0 458.8,117.1 459.2,116.1 459.6,115.2 459.9,114.3 460.3,113.4 460.7,112.4 461.1,111.5 461.5,110.6 461.9,109.7 462.3,108.8 462.8,107.9 463.4,107.1 464.2,106.6 464.8,106.4" fill="none" stroke="#111" stroke-width="1.5" stroke-linejoin="round"/>
<path d="M402.5,170.3 403.3,169.8 404.2,169.2 405.0,168.7 405.9,168.1 406.7,167.6 407.6,167.1 408.4,166.6 409.3,166.1 410.2,165.6 411.0,165.1 411.9,164.6 412.8,164.1 413.7,163.7 414.6,163.3 415.6,163.0 416.5,162.8 417.5,162.7 418.5,162.8 419.5,162.9 420.5,163.0 421.5,163.2 422.5,163.3 423.5,163.3 424.5,163.3 425.5,163.2 426.5,163.0 427.4,162.9 428.4,162.7 429.4,162.4 430.4,162.2 431.3,162.0 432.3,161.7 433.3,161.4 434.2,161.1 435.1,160.7 436.1,160.4 437.0,159.9 437.9,159.5 438.7,158.9 439.5,158.3 440.2,157.6 440.8,156.8 441.4,156.0 441.9,155.1 442.4,154.3 442.8,153.4 443.3,152.5 443.8,151.6 444.2,150.7 444.7,149.8 445.1,148.9 445.6,148.0 446.0,147.1 446.4,146.2 446.8,145.3 447.3,144.4 447.7,143.5 448.2,142.7 448.7,141.8 449.3,141.0 450.0,140.3 450.9,139.9 451.8,139.6 452.8,139.5 453.8,139.5 454.8,139.6 455.8,139.6 456.8,139.7 457.8,139.7 458.8,139.6 459.8,139.6 460.8,139.5 461.8,139.4 462.8,139.3 463.5,139.2" fill="none" stroke="#111" stroke-width="1.5" stroke-linejoin="round"/>
<path d="M400.7,199.8 401.6,199.5 402.6,199.1 403.5,198.8 404.5,198.4 405.4,198.0 406.3,197.6 407.2,197.1 408.0,196.6 408.8,196.0 409.6,195.4 410.4,194.8 411.3,194.3 412.2,194.1 413.1,194.2 414.0,194.6 414.8,195.2 415.5,195.9 416.2,196.5 417.0,197.1 417.9,197.5 418.9,197.9 419.8,198.2 420.8,198.4 421.8,198.6 422.8,198.6 423.8,198.5 424.8,198.4 425.7,198.3 426.7,198.1 427.7,197.9 428.7,197.6 429.6,197.2 430.5,196.8 431.4,196.3 432.2,195.7 432.9,195.1 433.6,194.4 434.2,193.6 434.9,192.8 435.4,192.0 436.0,191.2 436.6,190.4 437.2,189.5 437.7,188.7 438.3,187.9 438.8,187.0 439.3,186.1 439.7,185.3 440.3,184.4 440.8,183.6 441.4,182.8 442.1,182.0 442.8,181.4 443.7,181.2 444.6,181.3 445.5,181.7 446.3,182.2 447.2,182.8 448.0,183.3 448.9,183.8 449.7,184.4 450.6,184.9 451.5,185.2 452.4,185.5 453.4,185.5 454.4,185.3 455.3,185.0 456.3,184.6 457.2,184.3 458.2,184.1 459.2,184.1 460.1,184.3 461.1,184.6 462.0,185.0 462.9,185.4 463.8,185.9 464.5,186.5 464.9,186.9" fill="none" stroke="#111" stroke-width="1.5" stroke-linejoin="round"/>
<path d="M400.6,225.6 401.5,225.1 402.3,224.6 403.2,224.0 404.0,223.5 404.9,223.0 405.8,222.6 406.7,222.1 407.6,221.8 408.6,221.6 409.5,221.5 410.5,221.6 411.5,221.9 412.4,222.4 413.2,222.9 414.1,223.4 414.9,224.0 415.7,224.5 416.6,225.0 417.5,225.4 418.4,225.8 419.3,226.2 420.3,226.6 421.2,227.0 422.1,227.3 423.1,227.6 424.0,227.9 425.0,228.2 426.0,228.3 427.0,228.3 427.9,228.1 428.9,227.8 429.8,227.4 430.6,226.8 431.4,226.2 432.1,225.5 432.7,224.7 433.4,224.0 434.0,223.2 434.6,222.4 435.2,221.6 435.7,220.7 436.2,219.8 436.6,218.9 437.0,218.0 437.4,217.1 437.9,216.2 438.3,215.3 438.8,214.5 439.3,213.6 440.0,212.9 440.8,212.5 441.6,212.5 442.4,213.0 443.1,213.8 443.7,214.6 444.2,215.4 444.7,216.3 445.2,217.1 445.8,217.9 446.4,218.7 447.1,219.4 447.9,220.0 448.8,220.5 449.7,220.9 450.6,221.2 451.6,221.3 452.6,221.3 453.6,221.2 454.6,221.0 455.5,220.7 456.5,220.4 457.4,220.0 458.3,219.7 459.3,219.5 460.3,219.2 461.3,219.1 462.3,218.9 463.3,218.8 464.2,218.7 465.0,218.6" fill="none" stroke="#111" stroke-width="1.5" stroke-linejoin="round"/>
<path d="M400.6,254.7 401.4,254.1 402.1,253.4 402.9,252.8 403.6,252.1 404.4,251.4 405.1,250.7 405.8,250.0 406.4,249.2 406.9,248.4 407.5,247.5 408.1,246.8 408.8,246.1 409.6,245.8 410.5,246.0 411.3,246.6 411.9,247.3 412.5,248.1 413.1,248.9 413.7,249.7 414.3,250.5 414.9,251.3 415.6,252.1 416.3,252.7 417.2,253.1 418.2,253.3 419.2,253.2 420.1,253.0 421.0,252.5 421.8,251.9 422.5,251.2 423.1,250.5 423.7,249.6 424.2,248.8 424.7,247.9 425.2,247.1 425.7,246.2 426.3,245.4 426.8,244.5 427.4,243.7 428.1,243.0 428.8,242.2 429.5,241.6 430.3,241.1 431.3,240.9 432.2,241.1 433.1,241.5 433.9,242.1 434.7,242.7 435.4,243.4 436.1,244.0 436.9,244.7 437.6,245.4 438.4,246.1 439.1,246.7 439.8,247.5 440.5,248.2 441.2,248.8 442.0,249.5 442.8,250.1 443.6,250.7 444.5,251.2 445.4,251.5 446.3,251.8 447.3,251.9 448.3,252.0 449.3,252.0 450.3,251.9 451.3,251.9 452.3,251.7 453.3,251.5 454.3,251.3 455.2,251.1 456.2,250.8 457.2,250.7 458.2,250.7 459.2,250.7 460.1,250.9 461.1,251.2 462.1,251.5 463.0,251.8 463.5,252.0" fill="none" stroke="#111" stroke-width="1.5" stroke-linejoin="round" stroke-dasharray="5.7,6.3"/>
<path d="M398.3,284.2 399.3,284.0 400.2,283.7 401.2,283.5 402.2,283.3 403.2,283.0 404.1,282.7 405.1,282.4 406.0,282.0 406.9,281.7 407.9,281.3 408.8,281.0 409.8,280.8 410.8,280.7 411.7,280.8 412.7,281.1 413.6,281.5 414.5,281.9 415.4,282.1 416.4,282.1 417.3,281.7 418.1,281.1 418.8,280.4 419.4,279.6 420.0,278.8 420.6,278.0 421.1,277.2 421.6,276.3 422.0,275.4 422.4,274.5 422.8,273.5 423.1,272.6 423.5,271.7 423.9,270.7 424.3,269.8 424.7,268.9 425.2,268.0 425.7,267.2 426.2,266.3 426.8,265.5 427.5,265.0 428.3,265.0 429.1,265.5 429.7,266.3 430.2,267.1 430.6,268.0 431.1,268.9 431.6,269.7 432.2,270.6 432.8,271.4 433.4,272.1 434.1,272.8 434.9,273.5 435.6,274.2 436.4,274.8 437.2,275.4 438.0,276.0 438.8,276.5 439.7,277.0 440.6,277.5 441.5,277.9 442.4,278.2 443.4,278.6 444.3,278.8 445.3,279.1 446.3,279.2 447.3,279.3 448.3,279.4 449.3,279.3 450.3,279.1 451.2,278.8 452.2,278.5 453.1,278.2 454.1,277.9 455.0,277.6 456.0,277.4 457.0,277.3 457.9,277.3 458.9,277.6 459.8,278.0 460.7,278.5 461.5,279.0 462.4,279.6 463.2,280.1 464.0,280.7 464.8,281.3" fill="none" stroke="#111" stroke-width="1.5" stroke-linejoin="round"/>
<path d="M394.2,312.0 395.2,311.9 396.2,311.8 397.2,311.7 398.2,311.6 399.2,311.5 400.2,311.3 401.1,311.1 402.1,310.7 403.0,310.3 403.8,309.8 404.7,309.3 405.5,308.7 406.3,308.1 407.0,307.4 407.7,306.7 408.4,306.0 409.1,305.3 409.8,304.5 410.4,303.7 410.9,302.9 411.5,302.1 412.0,301.2 412.5,300.4 413.0,299.5 413.6,298.7 414.1,297.8 414.7,297.0 415.4,296.3 416.0,295.5 416.7,294.8 417.4,294.1 418.2,293.4 418.9,292.8 419.8,292.3 420.7,291.9 421.7,291.8 422.6,291.9 423.6,292.2 424.5,292.6 425.3,293.1 426.2,293.6 427.0,294.1 427.9,294.7 428.7,295.2 429.5,295.9 430.2,296.5 431.0,297.1 431.8,297.8 432.6,298.3 433.4,298.9 434.3,299.3 435.2,299.7 436.2,300.1 437.1,300.5 438.1,300.8 439.0,301.1 440.0,301.3 440.9,301.6 441.9,301.9 442.9,302.1 443.8,302.4 444.8,302.6 445.8,302.8 446.8,303.1 447.7,303.3 448.7,303.5 449.7,303.7 450.7,303.9 451.7,304.1 452.6,304.2 453.6,304.3 454.6,304.4 455.6,304.3 456.6,304.2 457.6,303.9 458.5,303.6 459.4,303.1 460.2,302.6 461.0,302.0 461.8,301.4 462.5,300.7 463.2,300.0 463.9,299.2 464.6,298.5 464.9,298.1" fill="none" stroke="#111" stroke-width="1.5" stroke-linejoin="round"/>
<path d="M367.6,84.9 L361.5,80.2" stroke="#111" stroke-width="2.3" stroke-linecap="round"/>
<path d="M357.8,76.8 L364,78.7 L360.8,82.6 Z" fill="#111"/>
<rect x="16.2" y="0.5" width="124.1" height="315.9" fill="none" stroke="#222" stroke-width="1.3"/>
<line x1="16.0" y1="0.0" x2="16.0" y2="317.0" stroke="#6e6e6e" stroke-width="2.0"/>
<rect x="142.7" y="1.5" width="121.6" height="314.9" fill="none" stroke="#222" stroke-width="1.3"/>
<rect x="268.0" y="1.6" width="122.6" height="314.9" fill="none" stroke="#7a7a7a" stroke-width="1.5"/>
<line x1="268.0" y1="316.5" x2="390.6" y2="316.5" stroke="#333" stroke-width="1.2"/>
<line x1="393.0" y1="2.5" x2="510.4" y2="2.5" stroke="#444" stroke-width="1.2"/>
<line x1="510.5" y1="2.9" x2="510.5" y2="316.5" stroke="#666" stroke-width="1.0"/>
<line x1="392.9" y1="2.2" x2="392.9" y2="317.2" stroke="#888" stroke-width="1.5"/>
<line x1="393.0" y1="316.5" x2="510.4" y2="316.5" stroke="#333" stroke-width="1.2"/>
<line x1="18.5" y1="0.5" x2="18.5" y2="6.0" stroke="#222" stroke-width="1.1"/>
<line x1="18.5" y1="316.4" x2="18.5" y2="311.4" stroke="#222" stroke-width="1.1"/>
<line x1="68.5" y1="0.5" x2="68.5" y2="6.0" stroke="#222" stroke-width="1.1"/>
<line x1="68.5" y1="316.4" x2="68.5" y2="311.4" stroke="#222" stroke-width="1.1"/>
<line x1="117.5" y1="0.5" x2="117.5" y2="6.0" stroke="#222" stroke-width="1.1"/>
<line x1="117.5" y1="316.4" x2="117.5" y2="311.4" stroke="#222" stroke-width="1.1"/>
<line x1="16.5" y1="3.5" x2="21.5" y2="3.5" stroke="#222" stroke-width="1.1"/>
<line x1="140.3" y1="3.5" x2="135.0" y2="3.5" stroke="#222" stroke-width="1.1"/>
<line x1="16.5" y1="54.5" x2="21.5" y2="54.5" stroke="#222" stroke-width="1.1"/>
<line x1="140.3" y1="54.5" x2="135.0" y2="54.5" stroke="#222" stroke-width="1.1"/>
<line x1="16.5" y1="105.5" x2="21.5" y2="105.5" stroke="#222" stroke-width="1.1"/>
<line x1="140.3" y1="105.5" x2="135.0" y2="105.5" stroke="#222" stroke-width="1.1"/>
<line x1="16.5" y1="156.5" x2="21.5" y2="156.5" stroke="#222" stroke-width="1.1"/>
<line x1="140.3" y1="156.5" x2="135.0" y2="156.5" stroke="#222" stroke-width="1.1"/>
<line x1="16.5" y1="207.5" x2="21.5" y2="207.5" stroke="#222" stroke-width="1.1"/>
<line x1="140.3" y1="207.5" x2="135.0" y2="207.5" stroke="#222" stroke-width="1.1"/>
<line x1="16.5" y1="258.5" x2="21.5" y2="258.5" stroke="#222" stroke-width="1.1"/>
<line x1="140.3" y1="258.5" x2="135.0" y2="258.5" stroke="#222" stroke-width="1.1"/>
<line x1="16.5" y1="309.5" x2="21.5" y2="309.5" stroke="#222" stroke-width="1.1"/>
<line x1="140.3" y1="309.5" x2="135.0" y2="309.5" stroke="#222" stroke-width="1.1"/>
<line x1="145.5" y1="1.5" x2="145.5" y2="7.5" stroke="#222" stroke-width="1.1"/>
<line x1="145.5" y1="316.4" x2="145.5" y2="311.2" stroke="#222" stroke-width="1.1"/>
<line x1="154.5" y1="1.5" x2="154.5" y2="4.7" stroke="#222" stroke-width="1.1"/>
<line x1="154.5" y1="316.4" x2="154.5" y2="313.4" stroke="#222" stroke-width="1.1"/>
<line x1="164.5" y1="1.5" x2="164.5" y2="4.7" stroke="#222" stroke-width="1.1"/>
<line x1="164.5" y1="316.4" x2="164.5" y2="313.4" stroke="#222" stroke-width="1.1"/>
<line x1="174.5" y1="1.5" x2="174.5" y2="4.7" stroke="#222" stroke-width="1.1"/>
<line x1="174.5" y1="316.4" x2="174.5" y2="313.4" stroke="#222" stroke-width="1.1"/>
<line x1="184.5" y1="1.5" x2="184.5" y2="4.7" stroke="#222" stroke-width="1.1"/>
<line x1="184.5" y1="316.4" x2="184.5" y2="313.4" stroke="#222" stroke-width="1.1"/>
<line x1="193.5" y1="1.5" x2="193.5" y2="7.5" stroke="#222" stroke-width="1.1"/>
<line x1="193.5" y1="316.4" x2="193.5" y2="311.2" stroke="#222" stroke-width="1.1"/>
<line x1="203.5" y1="1.5" x2="203.5" y2="4.7" stroke="#222" stroke-width="1.1"/>
<line x1="203.5" y1="316.4" x2="203.5" y2="313.4" stroke="#222" stroke-width="1.1"/>
<line x1="213.5" y1="1.5" x2="213.5" y2="4.7" stroke="#222" stroke-width="1.1"/>
<line x1="213.5" y1="316.4" x2="213.5" y2="313.4" stroke="#222" stroke-width="1.1"/>
<line x1="223.5" y1="1.5" x2="223.5" y2="4.7" stroke="#222" stroke-width="1.1"/>
<line x1="223.5" y1="316.4" x2="223.5" y2="313.4" stroke="#222" stroke-width="1.1"/>
<line x1="232.5" y1="1.5" x2="232.5" y2="4.7" stroke="#222" stroke-width="1.1"/>
<line x1="232.5" y1="316.4" x2="232.5" y2="313.4" stroke="#222" stroke-width="1.1"/>
<line x1="242.5" y1="1.5" x2="242.5" y2="7.5" stroke="#222" stroke-width="1.1"/>
<line x1="242.5" y1="316.4" x2="242.5" y2="311.2" stroke="#222" stroke-width="1.1"/>
<line x1="252.5" y1="1.5" x2="252.5" y2="4.7" stroke="#222" stroke-width="1.1"/>
<line x1="252.5" y1="316.4" x2="252.5" y2="313.4" stroke="#222" stroke-width="1.1"/>
<line x1="262.5" y1="1.5" x2="262.5" y2="4.7" stroke="#222" stroke-width="1.1"/>
<line x1="262.5" y1="316.4" x2="262.5" y2="313.4" stroke="#222" stroke-width="1.1"/>
<line x1="142.7" y1="39.5" x2="148.0" y2="39.5" stroke="#222" stroke-width="1.1"/>
<line x1="264.3" y1="39.5" x2="259.0" y2="39.5" stroke="#222" stroke-width="1.1"/>
<line x1="142.7" y1="81.5" x2="148.0" y2="81.5" stroke="#222" stroke-width="1.1"/>
<line x1="264.3" y1="81.5" x2="259.0" y2="81.5" stroke="#222" stroke-width="1.1"/>
<line x1="142.7" y1="124.5" x2="148.0" y2="124.5" stroke="#222" stroke-width="1.1"/>
<line x1="264.3" y1="124.5" x2="259.0" y2="124.5" stroke="#222" stroke-width="1.1"/>
<line x1="142.7" y1="166.5" x2="148.0" y2="166.5" stroke="#222" stroke-width="1.1"/>
<line x1="264.3" y1="166.5" x2="259.0" y2="166.5" stroke="#222" stroke-width="1.1"/>
<line x1="142.7" y1="209.5" x2="148.0" y2="209.5" stroke="#222" stroke-width="1.1"/>
<line x1="264.3" y1="209.5" x2="259.0" y2="209.5" stroke="#222" stroke-width="1.1"/>
<line x1="142.7" y1="251.5" x2="148.0" y2="251.5" stroke="#222" stroke-width="1.1"/>
<line x1="264.3" y1="251.5" x2="259.0" y2="251.5" stroke="#222" stroke-width="1.1"/>
<line x1="142.7" y1="294.5" x2="148.0" y2="294.5" stroke="#222" stroke-width="1.1"/>
<line x1="264.3" y1="294.5" x2="259.0" y2="294.5" stroke="#222" stroke-width="1.1"/>
<line x1="277.5" y1="1.6" x2="277.5" y2="4.6" stroke="#999" stroke-width="1.1"/>
<line x1="277.5" y1="316.5" x2="277.5" y2="313.5" stroke="#444" stroke-width="1.1"/>
<line x1="287.5" y1="1.6" x2="287.5" y2="4.6" stroke="#999" stroke-width="1.1"/>
<line x1="287.5" y1="316.5" x2="287.5" y2="313.5" stroke="#444" stroke-width="1.1"/>
<line x1="296.5" y1="1.6" x2="296.5" y2="4.6" stroke="#999" stroke-width="1.1"/>
<line x1="296.5" y1="316.5" x2="296.5" y2="313.5" stroke="#444" stroke-width="1.1"/>
<line x1="306.5" y1="1.6" x2="306.5" y2="4.6" stroke="#999" stroke-width="1.1"/>
<line x1="306.5" y1="316.5" x2="306.5" y2="313.5" stroke="#444" stroke-width="1.1"/>
<line x1="316.5" y1="1.6" x2="316.5" y2="6.6" stroke="#999" stroke-width="1.1"/>
<line x1="316.5" y1="316.5" x2="316.5" y2="311.5" stroke="#444" stroke-width="1.1"/>
<line x1="325.5" y1="1.6" x2="325.5" y2="4.6" stroke="#999" stroke-width="1.1"/>
<line x1="325.5" y1="316.5" x2="325.5" y2="313.5" stroke="#444" stroke-width="1.1"/>
<line x1="335.5" y1="1.6" x2="335.5" y2="4.6" stroke="#999" stroke-width="1.1"/>
<line x1="335.5" y1="316.5" x2="335.5" y2="313.5" stroke="#444" stroke-width="1.1"/>
<line x1="344.5" y1="1.6" x2="344.5" y2="4.6" stroke="#999" stroke-width="1.1"/>
<line x1="344.5" y1="316.5" x2="344.5" y2="313.5" stroke="#444" stroke-width="1.1"/>
<line x1="354.5" y1="1.6" x2="354.5" y2="4.6" stroke="#999" stroke-width="1.1"/>
<line x1="354.5" y1="316.5" x2="354.5" y2="313.5" stroke="#444" stroke-width="1.1"/>
<line x1="364.5" y1="1.6" x2="364.5" y2="6.6" stroke="#999" stroke-width="1.1"/>
<line x1="364.5" y1="316.5" x2="364.5" y2="311.5" stroke="#444" stroke-width="1.1"/>
<line x1="373.5" y1="1.6" x2="373.5" y2="4.6" stroke="#999" stroke-width="1.1"/>
<line x1="373.5" y1="316.5" x2="373.5" y2="313.5" stroke="#444" stroke-width="1.1"/>
<line x1="383.5" y1="1.6" x2="383.5" y2="4.6" stroke="#999" stroke-width="1.1"/>
<line x1="383.5" y1="316.5" x2="383.5" y2="313.5" stroke="#444" stroke-width="1.1"/>
<line x1="268.0" y1="3.5" x2="273.5" y2="3.5" stroke="#444" stroke-width="1.1"/>
<line x1="390.6" y1="3.5" x2="385.3" y2="3.5" stroke="#444" stroke-width="1.1"/>
<line x1="268.0" y1="81.5" x2="273.5" y2="81.5" stroke="#444" stroke-width="1.1"/>
<line x1="390.6" y1="81.5" x2="385.3" y2="81.5" stroke="#444" stroke-width="1.1"/>
<line x1="268.0" y1="158.5" x2="273.5" y2="158.5" stroke="#444" stroke-width="1.1"/>
<line x1="390.6" y1="158.5" x2="385.3" y2="158.5" stroke="#444" stroke-width="1.1"/>
<line x1="268.0" y1="236.5" x2="273.5" y2="236.5" stroke="#444" stroke-width="1.1"/>
<line x1="390.6" y1="236.5" x2="385.3" y2="236.5" stroke="#444" stroke-width="1.1"/>
<line x1="268.0" y1="314.5" x2="273.5" y2="314.5" stroke="#444" stroke-width="1.1"/>
<line x1="390.6" y1="314.5" x2="385.3" y2="314.5" stroke="#444" stroke-width="1.1"/>
<line x1="421.5" y1="2.9" x2="421.5" y2="8.4" stroke="#333" stroke-width="1.1"/>
<line x1="421.5" y1="316.5" x2="421.5" y2="311.0" stroke="#333" stroke-width="1.1"/>
<line x1="450.5" y1="2.9" x2="450.5" y2="8.4" stroke="#333" stroke-width="1.1"/>
<line x1="450.5" y1="316.5" x2="450.5" y2="311.0" stroke="#333" stroke-width="1.1"/>
<line x1="479.5" y1="316.5" x2="479.5" y2="313.0" stroke="#999" stroke-width="1.1"/>
<line x1="508.5" y1="316.5" x2="508.5" y2="313.5" stroke="#aaa" stroke-width="1.1"/>
<line x1="393.2" y1="33.5" x2="399.0" y2="33.5" stroke="#333" stroke-width="1.1"/>
<line x1="510.4" y1="33.5" x2="507.0" y2="33.5" stroke="#aaa" stroke-width="0.8"/>
<line x1="393.2" y1="79.5" x2="399.0" y2="79.5" stroke="#333" stroke-width="1.1"/>
<line x1="510.4" y1="79.5" x2="507.0" y2="79.5" stroke="#aaa" stroke-width="0.8"/>
<line x1="393.2" y1="125.5" x2="399.0" y2="125.5" stroke="#333" stroke-width="1.1"/>
<line x1="510.4" y1="125.5" x2="507.0" y2="125.5" stroke="#aaa" stroke-width="0.8"/>
<line x1="393.2" y1="172.5" x2="399.0" y2="172.5" stroke="#333" stroke-width="1.1"/>
<line x1="510.4" y1="172.5" x2="507.0" y2="172.5" stroke="#aaa" stroke-width="0.8"/>
<line x1="393.2" y1="218.5" x2="399.0" y2="218.5" stroke="#333" stroke-width="1.1"/>
<line x1="510.4" y1="218.5" x2="507.0" y2="218.5" stroke="#aaa" stroke-width="0.8"/>
<line x1="393.2" y1="264.5" x2="399.0" y2="264.5" stroke="#333" stroke-width="1.1"/>
<line x1="510.4" y1="264.5" x2="507.0" y2="264.5" stroke="#aaa" stroke-width="0.8"/>
<line x1="393.2" y1="310.5" x2="399.0" y2="310.5" stroke="#333" stroke-width="1.1"/>
<line x1="510.4" y1="310.5" x2="507.0" y2="310.5" stroke="#aaa" stroke-width="0.8"/>
<text x="49.89" y="32.00" font-size="9.9" textLength="16.17" lengthAdjust="spacingAndGlyphs">p16</text>
<text x="67.66" y="49.00" font-size="9.9" textLength="17.02" lengthAdjust="spacingAndGlyphs">p15</text>
<text x="20.24" y="56.60" font-size="9.9" textLength="39.67" lengthAdjust="spacingAndGlyphs">18.7 GPa</text>
<text x="19.25" y="106.80" font-size="9.9" textLength="38.96" lengthAdjust="spacingAndGlyphs">16.1 GPa</text>
<text x="19.44" y="150.00" font-size="9.9" textLength="39.77" lengthAdjust="spacingAndGlyphs">14.8 GPa</text>
<text x="19.74" y="209.00" font-size="9.9" textLength="39.47" lengthAdjust="spacingAndGlyphs">13.6 GPa</text>
<text x="121.37" y="176.50" font-size="9.9" textLength="16.10" lengthAdjust="spacingAndGlyphs">p11</text>
<text x="20.01" y="292.40" font-size="9.9" textLength="34.88" lengthAdjust="spacingAndGlyphs">9.6 GPa</text>
<text x="87.73" y="230.50" font-size="9.9" textLength="17.66" lengthAdjust="spacingAndGlyphs">p13</text>
<text x="72.40" y="266.50" font-size="9.9" textLength="16.03" lengthAdjust="spacingAndGlyphs">p14</text>
<text x="109.13" y="252.50" font-size="9.9" textLength="17.87" lengthAdjust="spacingAndGlyphs">p12</text>
<text x="225.35" y="33.50" font-size="9.9" textLength="17.23" lengthAdjust="spacingAndGlyphs">p12</text>
<text x="188.08" y="83.00" font-size="9.9" textLength="16.49" lengthAdjust="spacingAndGlyphs">p16</text>
<text x="208.99" y="78.60" font-size="9.9" textLength="16.27" lengthAdjust="spacingAndGlyphs">p13</text>
<text x="172.28" y="110.30" font-size="9.9" textLength="16.33" lengthAdjust="spacingAndGlyphs">p17</text>
<text x="143.93" y="129.20" font-size="9.9" textLength="38.48" lengthAdjust="spacingAndGlyphs">54.6 GPa</text>
<text x="144.36" y="159.00" font-size="9.9" textLength="38.55" lengthAdjust="spacingAndGlyphs">48.7 GPa</text>
<text x="144.76" y="180.70" font-size="9.9" textLength="39.95" lengthAdjust="spacingAndGlyphs">43.9 GPa</text>
<text x="144.71" y="203.60" font-size="9.9" textLength="40.00" lengthAdjust="spacingAndGlyphs">33.0 GPa</text>
<text x="144.91" y="234.50" font-size="9.9" textLength="40.49" lengthAdjust="spacingAndGlyphs">27.4 GPa</text>
<text x="144.91" y="263.00" font-size="9.9" textLength="40.49" lengthAdjust="spacingAndGlyphs">23.9 GPa</text>
<text x="144.91" y="287.00" font-size="9.9" textLength="40.49" lengthAdjust="spacingAndGlyphs">21.5 GPa</text>
<text x="194.76" y="301.00" font-size="9.9" textLength="16.91" lengthAdjust="spacingAndGlyphs">p15</text>
<text x="216.70" y="290.50" font-size="9.9" textLength="16.03" lengthAdjust="spacingAndGlyphs">p14</text>
<text x="244.86" y="304.00" font-size="9.9" textLength="16.42" lengthAdjust="spacingAndGlyphs">p11</text>
<text x="310.19" y="54.60" font-size="9.9" textLength="16.17" lengthAdjust="spacingAndGlyphs">p16</text>
<text x="329.37" y="54.60" font-size="9.9" textLength="16.59" lengthAdjust="spacingAndGlyphs">p13</text>
<text x="353.32" y="29.60" font-size="9.9" textLength="15.32" lengthAdjust="spacingAndGlyphs">p12</text>
<text x="375.01" y="17.80" font-size="9.9" textLength="15.25" lengthAdjust="spacingAndGlyphs">p11</text>
<text x="356.17" y="63.00" font-size="9.9" textLength="34.26" lengthAdjust="spacingAndGlyphs">119 GPa</text>
<text x="356.17" y="133.40" font-size="9.9" textLength="34.26" lengthAdjust="spacingAndGlyphs">110 GPa</text>
<text x="355.89" y="176.50" font-size="9.9" textLength="33.85" lengthAdjust="spacingAndGlyphs">102 GPa</text>
<text x="358.93" y="210.50" font-size="9.9" textLength="30.69" lengthAdjust="spacingAndGlyphs">98 GPa</text>
<text x="358.93" y="227.20" font-size="9.9" textLength="30.39" lengthAdjust="spacingAndGlyphs">90 GPa</text>
<text x="269.43" y="283.00" font-size="9.9" textLength="30.09" lengthAdjust="spacingAndGlyphs">86 GPa</text>
<text x="269.34" y="292.00" font-size="9.9" textLength="30.18" lengthAdjust="spacingAndGlyphs">78 GPa</text>
<text x="269.39" y="301.80" font-size="9.9" textLength="30.13" lengthAdjust="spacingAndGlyphs">67 GPa</text>
<text x="269.43" y="313.00" font-size="9.9" textLength="30.09" lengthAdjust="spacingAndGlyphs">59 GPa</text>
<text x="439.39" y="21.20" font-size="11" textLength="25.02" lengthAdjust="spacingAndGlyphs">MAC</text>
<text x="413.74" y="39.50" font-size="9.9" textLength="16.84" lengthAdjust="spacingAndGlyphs">p11</text>
<text x="466.31" y="44.50" font-size="9.9" textLength="40.19" lengthAdjust="spacingAndGlyphs">28.2 GPa</text>
<text x="466.31" y="68.40" font-size="9.9" textLength="40.19" lengthAdjust="spacingAndGlyphs">26.6 GPa</text>
<text x="466.31" y="89.30" font-size="9.9" textLength="40.19" lengthAdjust="spacingAndGlyphs">25.0 GPa</text>
<text x="466.31" y="113.70" font-size="9.9" textLength="40.19" lengthAdjust="spacingAndGlyphs">23.7 GPa</text>
<text x="466.03" y="145.70" font-size="9.9" textLength="40.48" lengthAdjust="spacingAndGlyphs">19.5 GPa</text>
<text x="466.03" y="191.80" font-size="9.9" textLength="40.48" lengthAdjust="spacingAndGlyphs">16.9 GPa</text>
<text x="466.03" y="223.20" font-size="9.9" textLength="40.48" lengthAdjust="spacingAndGlyphs">15.7 GPa</text>
<text x="466.03" y="254.60" font-size="9.9" textLength="40.48" lengthAdjust="spacingAndGlyphs">13.3 GPa</text>
<text x="466.03" y="284.60" font-size="9.9" textLength="40.48" lengthAdjust="spacingAndGlyphs">12.4 GPa</text>
<text x="470.32" y="304.50" font-size="9.9" textLength="34.48" lengthAdjust="spacingAndGlyphs">9.5 GPa</text>
<text x="439.39" y="127.80" font-size="9.9" textLength="16.27" lengthAdjust="spacingAndGlyphs">p10</text>
<text x="457.37" y="169.40" font-size="9.9" textLength="11.29" lengthAdjust="spacingAndGlyphs">p9</text>
<text x="15.64" y="330.60" font-size="10" textLength="5.73" lengthAdjust="spacingAndGlyphs">0</text>
<text x="58.96" y="330.60" font-size="10" textLength="18.77" lengthAdjust="spacingAndGlyphs">500</text>
<text x="105.12" y="330.60" font-size="10" textLength="25.28" lengthAdjust="spacingAndGlyphs">1000</text>
<text x="142.68" y="330.60" font-size="10" textLength="5.16" lengthAdjust="spacingAndGlyphs">0</text>
<text x="184.67" y="330.60" font-size="10" textLength="18.25" lengthAdjust="spacingAndGlyphs">500</text>
<text x="230.34" y="330.60" font-size="10" textLength="24.54" lengthAdjust="spacingAndGlyphs">1000</text>
<text x="306.67" y="330.60" font-size="10" textLength="18.25" lengthAdjust="spacingAndGlyphs">500</text>
<text x="351.87" y="330.60" font-size="10" textLength="23.50" lengthAdjust="spacingAndGlyphs">1000</text>
<text x="408.73" y="330.60" font-size="10" textLength="24.96" lengthAdjust="spacingAndGlyphs">1200</text>
<text x="436.84" y="330.60" font-size="10" textLength="24.54" lengthAdjust="spacingAndGlyphs">1400</text>
<text x="465.32" y="330.60" font-size="10" textLength="25.07" lengthAdjust="spacingAndGlyphs">1600</text>
<text x="494.32" y="330.60" font-size="10" textLength="25.07" lengthAdjust="spacingAndGlyphs">1800</text>
<text x="211.6" y="360" font-size="11.3" textLength="90.2" lengthAdjust="spacingAndGlyphs">Raman shift / cm</text>
<text x="301.3" y="352.2" font-size="7.6">-1</text>
<text transform="translate(8.4,144.9) rotate(-90)" font-size="11" text-anchor="middle">Counts</text>
</svg></body></html>
